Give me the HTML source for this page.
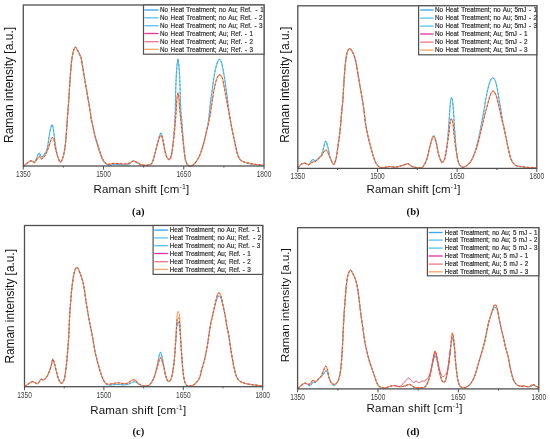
<!DOCTYPE html>
<html><head><meta charset="utf-8"><style>
html,body{margin:0;padding:0;background:#fff;}
svg{display:block;}
.tl{font-family:"Liberation Sans",sans-serif;font-size:8.6px;fill:#3c3c3c;text-anchor:middle;}
.xt{font-family:"Liberation Sans",sans-serif;font-size:11.5px;letter-spacing:0.2px;fill:#141414;}
.yt{font-family:"Liberation Sans",sans-serif;font-size:12px;fill:#141414;}
.lg{font-family:"Liberation Sans",sans-serif;font-size:6.3px;fill:#303030;stroke:#303030;stroke-width:0.2px;letter-spacing:0.15px;word-spacing:0.8px;white-space:pre;}
.pl{font-family:"Liberation Serif",serif;font-size:10.6px;font-weight:bold;fill:#111;text-anchor:middle;}
</style></head><body>
<svg width="550" height="439" viewBox="0 0 550 439">
<rect width="550" height="439" fill="#fff"/>
<path d="M23.60,166.20 C24.17,165.70 25.80,164.12 27.00,163.20 C28.20,162.28 29.75,160.97 30.80,160.70 C31.85,160.43 32.57,161.48 33.30,161.60 C34.03,161.72 34.27,162.80 35.20,161.40 C36.13,160.00 37.87,153.93 38.90,153.20 C39.93,152.47 40.57,156.68 41.40,157.00 C42.23,157.32 42.95,156.47 43.90,155.10 C44.85,153.73 46.15,152.35 47.10,148.80 C48.05,145.25 48.83,137.77 49.60,133.80 C50.37,129.83 51.08,125.83 51.70,125.00 C52.32,124.17 52.72,125.67 53.30,128.80 C53.88,131.93 54.47,139.20 55.20,143.80 C55.93,148.40 56.87,153.37 57.70,156.40 C58.53,159.43 59.37,161.70 60.20,162.00 C61.03,162.30 61.97,160.18 62.70,158.20 C63.43,156.22 64.07,153.33 64.60,150.10 C65.13,146.87 65.48,143.40 65.90,138.80 C66.32,134.20 66.60,129.30 67.10,122.50 C67.60,115.70 68.38,105.50 68.90,98.00 C69.42,90.50 69.70,84.03 70.20,77.50 C70.70,70.97 71.32,63.35 71.90,58.80 C72.48,54.25 73.12,52.13 73.70,50.20 C74.28,48.27 74.83,47.33 75.40,47.20 C75.97,47.07 76.40,48.18 77.10,49.40 C77.80,50.62 78.90,52.93 79.60,54.50 C80.30,56.07 80.73,56.38 81.30,58.80 C81.87,61.22 82.43,65.60 83.00,69.00 C83.57,72.40 84.12,75.78 84.70,79.20 C85.28,82.62 85.92,86.08 86.50,89.50 C87.08,92.92 87.57,95.95 88.20,99.70 C88.83,103.45 89.82,108.92 90.30,112.00 C90.78,115.08 90.62,115.57 91.10,118.20 C91.58,120.83 92.52,124.62 93.20,127.80 C93.88,130.98 94.40,134.12 95.20,137.30 C96.00,140.48 97.08,143.93 98.00,146.90 C98.92,149.87 99.80,152.72 100.70,155.10 C101.60,157.48 102.48,159.72 103.40,161.20 C104.32,162.68 105.28,163.30 106.20,164.00 C107.12,164.70 107.65,165.35 108.90,165.40 C110.15,165.45 111.98,164.43 113.70,164.30 C115.42,164.17 117.38,164.48 119.20,164.60 C121.02,164.72 123.02,165.05 124.60,165.00 C126.18,164.95 127.33,164.93 128.70,164.30 C130.07,163.67 131.90,161.72 132.80,161.20 C133.70,160.68 133.32,160.88 134.10,161.20 C134.88,161.52 136.37,162.45 137.50,163.10 C138.63,163.75 139.65,164.72 140.90,165.10 C142.15,165.48 143.52,165.40 145.00,165.40 C146.48,165.40 148.55,165.68 149.80,165.10 C151.05,164.52 151.58,164.03 152.50,161.90 C153.42,159.77 154.38,155.72 155.30,152.30 C156.22,148.88 157.10,144.58 158.00,141.40 C158.90,138.22 159.90,133.65 160.70,133.20 C161.50,132.75 162.12,135.97 162.80,138.70 C163.48,141.43 164.12,146.53 164.80,149.60 C165.48,152.67 166.27,155.50 166.90,157.10 C167.53,158.70 167.92,159.32 168.60,159.20 C169.28,159.08 170.27,158.92 171.00,156.40 C171.73,153.88 172.40,149.33 173.00,144.10 C173.60,138.87 174.22,130.68 174.60,125.00 C174.98,119.32 175.13,115.12 175.30,110.00 C175.47,104.88 175.47,99.37 175.60,94.30 C175.73,89.23 175.90,84.03 176.10,79.60 C176.30,75.17 176.48,71.15 176.80,67.70 C177.12,64.25 177.63,58.90 178.00,58.90 C178.37,58.90 178.70,64.25 179.00,67.70 C179.30,71.15 179.60,75.17 179.80,79.60 C180.00,84.03 180.03,89.23 180.20,94.30 C180.37,99.37 180.47,104.65 180.80,110.00 C181.13,115.35 181.68,120.03 182.20,126.40 C182.72,132.77 183.38,142.73 183.90,148.20 C184.42,153.67 184.72,156.47 185.30,159.20 C185.88,161.93 186.48,163.47 187.40,164.60 C188.32,165.73 189.78,165.98 190.80,166.00 C191.82,166.02 192.48,165.60 193.50,164.70 C194.52,163.80 195.75,162.43 196.90,160.60 C198.05,158.77 199.25,156.70 200.40,153.70 C201.55,150.70 202.77,146.52 203.80,142.60 C204.83,138.68 205.90,133.30 206.60,130.20 C207.30,127.10 207.58,126.43 208.00,124.00 C208.42,121.57 208.70,119.13 209.10,115.60 C209.50,112.07 209.92,106.78 210.40,102.80 C210.88,98.82 211.48,95.42 212.00,91.70 C212.52,87.98 212.98,83.97 213.50,80.50 C214.02,77.03 214.48,73.82 215.10,70.90 C215.72,67.98 216.48,64.93 217.20,63.00 C217.92,61.07 218.68,59.38 219.40,59.30 C220.12,59.22 220.80,60.30 221.50,62.50 C222.20,64.70 222.93,68.83 223.60,72.50 C224.27,76.17 224.92,80.50 225.50,84.50 C226.08,88.50 226.57,92.45 227.10,96.50 C227.63,100.55 228.13,104.80 228.70,108.80 C229.27,112.80 229.82,116.47 230.50,120.50 C231.18,124.53 232.07,129.32 232.80,133.00 C233.53,136.68 234.20,139.38 234.90,142.60 C235.60,145.82 236.20,149.53 237.00,152.30 C237.80,155.07 238.55,157.58 239.70,159.20 C240.85,160.82 242.28,161.27 243.90,162.00 C245.52,162.73 247.57,163.18 249.40,163.60 C251.23,164.02 252.60,164.20 254.90,164.50 C257.20,164.80 261.82,165.25 263.20,165.40" fill="none" stroke="#5cc4f2" stroke-width="1.15" stroke-linejoin="round" opacity="1"/>
<path d="M23.60,166.20 C24.17,165.70 25.80,164.12 27.00,163.20 C28.20,162.28 29.75,160.97 30.80,160.70 C31.85,160.43 32.57,161.48 33.30,161.60 C34.03,161.72 34.27,162.80 35.20,161.40 C36.13,160.00 37.87,153.93 38.90,153.20 C39.93,152.47 40.57,156.68 41.40,157.00 C42.23,157.32 42.95,156.47 43.90,155.10 C44.85,153.73 46.15,152.35 47.10,148.80 C48.05,145.25 48.83,137.77 49.60,133.80 C50.37,129.83 51.08,125.83 51.70,125.00 C52.32,124.17 52.72,125.67 53.30,128.80 C53.88,131.93 54.47,139.20 55.20,143.80 C55.93,148.40 56.87,153.37 57.70,156.40 C58.53,159.43 59.37,161.70 60.20,162.00 C61.03,162.30 61.97,160.18 62.70,158.20 C63.43,156.22 64.07,153.33 64.60,150.10 C65.13,146.87 65.48,143.40 65.90,138.80 C66.32,134.20 66.60,129.30 67.10,122.50 C67.60,115.70 68.38,105.50 68.90,98.00 C69.42,90.50 69.70,84.03 70.20,77.50 C70.70,70.97 71.32,63.35 71.90,58.80 C72.48,54.25 73.12,52.13 73.70,50.20 C74.28,48.27 74.83,47.33 75.40,47.20 C75.97,47.07 76.40,48.18 77.10,49.40 C77.80,50.62 78.90,52.93 79.60,54.50 C80.30,56.07 80.73,56.38 81.30,58.80 C81.87,61.22 82.43,65.60 83.00,69.00 C83.57,72.40 84.12,75.78 84.70,79.20 C85.28,82.62 85.92,86.08 86.50,89.50 C87.08,92.92 87.57,95.95 88.20,99.70 C88.83,103.45 89.82,108.92 90.30,112.00 C90.78,115.08 90.62,115.57 91.10,118.20 C91.58,120.83 92.52,124.62 93.20,127.80 C93.88,130.98 94.40,134.12 95.20,137.30 C96.00,140.48 97.08,143.93 98.00,146.90 C98.92,149.87 99.80,152.72 100.70,155.10 C101.60,157.48 102.48,159.72 103.40,161.20 C104.32,162.68 105.28,163.30 106.20,164.00 C107.12,164.70 107.65,165.35 108.90,165.40 C110.15,165.45 111.98,164.43 113.70,164.30 C115.42,164.17 117.38,164.48 119.20,164.60 C121.02,164.72 123.02,165.05 124.60,165.00 C126.18,164.95 127.33,164.93 128.70,164.30 C130.07,163.67 131.90,161.72 132.80,161.20 C133.70,160.68 133.32,160.88 134.10,161.20 C134.88,161.52 136.37,162.45 137.50,163.10 C138.63,163.75 139.65,164.72 140.90,165.10 C142.15,165.48 143.52,165.40 145.00,165.40 C146.48,165.40 148.55,165.68 149.80,165.10 C151.05,164.52 151.58,164.03 152.50,161.90 C153.42,159.77 154.38,155.72 155.30,152.30 C156.22,148.88 157.10,144.58 158.00,141.40 C158.90,138.22 159.90,133.65 160.70,133.20 C161.50,132.75 162.12,135.97 162.80,138.70 C163.48,141.43 164.12,146.53 164.80,149.60 C165.48,152.67 166.27,155.50 166.90,157.10 C167.53,158.70 167.92,159.32 168.60,159.20 C169.28,159.08 170.27,158.92 171.00,156.40 C171.73,153.88 172.40,149.33 173.00,144.10 C173.60,138.87 174.22,130.68 174.60,125.00 C174.98,119.32 175.13,115.12 175.30,110.00 C175.47,104.88 175.47,99.37 175.60,94.30 C175.73,89.23 175.90,84.03 176.10,79.60 C176.30,75.17 176.48,71.15 176.80,67.70 C177.12,64.25 177.63,58.90 178.00,58.90 C178.37,58.90 178.70,64.25 179.00,67.70 C179.30,71.15 179.60,75.17 179.80,79.60 C180.00,84.03 180.03,89.23 180.20,94.30 C180.37,99.37 180.47,104.65 180.80,110.00 C181.13,115.35 181.68,120.03 182.20,126.40 C182.72,132.77 183.38,142.73 183.90,148.20 C184.42,153.67 184.72,156.47 185.30,159.20 C185.88,161.93 186.48,163.47 187.40,164.60 C188.32,165.73 189.78,165.98 190.80,166.00 C191.82,166.02 192.48,165.60 193.50,164.70 C194.52,163.80 195.75,162.43 196.90,160.60 C198.05,158.77 199.25,156.70 200.40,153.70 C201.55,150.70 202.77,146.52 203.80,142.60 C204.83,138.68 205.90,133.30 206.60,130.20 C207.30,127.10 207.58,126.43 208.00,124.00 C208.42,121.57 208.70,119.13 209.10,115.60 C209.50,112.07 209.92,106.78 210.40,102.80 C210.88,98.82 211.48,95.42 212.00,91.70 C212.52,87.98 212.98,83.97 213.50,80.50 C214.02,77.03 214.48,73.82 215.10,70.90 C215.72,67.98 216.48,64.93 217.20,63.00 C217.92,61.07 218.68,59.38 219.40,59.30 C220.12,59.22 220.80,60.30 221.50,62.50 C222.20,64.70 222.93,68.83 223.60,72.50 C224.27,76.17 224.92,80.50 225.50,84.50 C226.08,88.50 226.57,92.45 227.10,96.50 C227.63,100.55 228.13,104.80 228.70,108.80 C229.27,112.80 229.82,116.47 230.50,120.50 C231.18,124.53 232.07,129.32 232.80,133.00 C233.53,136.68 234.20,139.38 234.90,142.60 C235.60,145.82 236.20,149.53 237.00,152.30 C237.80,155.07 238.55,157.58 239.70,159.20 C240.85,160.82 242.28,161.27 243.90,162.00 C245.52,162.73 247.57,163.18 249.40,163.60 C251.23,164.02 252.60,164.20 254.90,164.50 C257.20,164.80 261.82,165.25 263.20,165.40" fill="none" stroke="#3ea6ee" stroke-width="1.0" stroke-linejoin="round" opacity="1" stroke-dasharray="2 2"/>
<path d="M23.60,166.20 C24.17,165.70 25.80,164.12 27.00,163.20 C28.20,162.28 29.65,160.80 30.80,160.70 C31.95,160.60 33.17,162.42 33.90,162.60 C34.63,162.78 34.30,162.83 35.20,161.80 C36.10,160.77 38.27,156.88 39.30,156.40 C40.33,155.92 40.63,158.80 41.40,158.90 C42.17,159.00 42.95,158.27 43.90,157.00 C44.85,155.73 46.05,153.80 47.10,151.30 C48.15,148.80 49.37,144.28 50.20,142.00 C51.03,139.72 51.47,137.93 52.10,137.60 C52.73,137.27 53.48,138.33 54.00,140.00 C54.52,141.67 54.58,144.87 55.20,147.60 C55.82,150.33 56.87,154.00 57.70,156.40 C58.53,158.80 59.37,161.70 60.20,162.00 C61.03,162.30 61.97,160.18 62.70,158.20 C63.43,156.22 64.07,153.33 64.60,150.10 C65.13,146.87 65.48,143.40 65.90,138.80 C66.32,134.20 66.60,129.30 67.10,122.50 C67.60,115.70 68.38,105.50 68.90,98.00 C69.42,90.50 69.70,84.03 70.20,77.50 C70.70,70.97 71.32,63.35 71.90,58.80 C72.48,54.25 73.12,52.13 73.70,50.20 C74.28,48.27 74.83,47.33 75.40,47.20 C75.97,47.07 76.40,48.18 77.10,49.40 C77.80,50.62 78.90,52.93 79.60,54.50 C80.30,56.07 80.73,56.38 81.30,58.80 C81.87,61.22 82.43,65.60 83.00,69.00 C83.57,72.40 84.12,75.78 84.70,79.20 C85.28,82.62 85.92,86.08 86.50,89.50 C87.08,92.92 87.57,95.95 88.20,99.70 C88.83,103.45 89.82,108.92 90.30,112.00 C90.78,115.08 90.62,115.57 91.10,118.20 C91.58,120.83 92.52,124.75 93.20,127.80 C93.88,130.85 94.40,133.55 95.20,136.50 C96.00,139.45 97.08,142.58 98.00,145.50 C98.92,148.42 99.80,151.50 100.70,154.00 C101.60,156.50 102.48,158.92 103.40,160.50 C104.32,162.08 105.28,162.87 106.20,163.50 C107.12,164.13 107.65,164.33 108.90,164.30 C110.15,164.27 111.98,163.42 113.70,163.30 C115.42,163.18 117.38,163.48 119.20,163.60 C121.02,163.72 123.02,164.05 124.60,164.00 C126.18,163.95 127.33,163.77 128.70,163.30 C130.07,162.83 131.90,161.55 132.80,161.20 C133.70,160.85 133.32,160.97 134.10,161.20 C134.88,161.43 136.37,162.03 137.50,162.60 C138.63,163.17 139.65,164.15 140.90,164.60 C142.15,165.05 143.52,165.30 145.00,165.30 C146.48,165.30 148.55,165.17 149.80,164.60 C151.05,164.03 151.58,163.95 152.50,161.90 C153.42,159.85 154.38,155.62 155.30,152.30 C156.22,148.98 157.10,144.83 158.00,142.00 C158.90,139.17 159.90,135.63 160.70,135.30 C161.50,134.97 162.12,137.47 162.80,140.00 C163.48,142.53 164.12,147.58 164.80,150.50 C165.48,153.42 166.15,155.95 166.90,157.50 C167.65,159.05 168.62,159.85 169.30,159.80 C169.98,159.75 170.38,159.67 171.00,157.20 C171.62,154.73 172.32,150.37 173.00,145.00 C173.68,139.63 174.57,130.83 175.10,125.00 C175.63,119.17 175.92,114.13 176.20,110.00 C176.48,105.87 176.50,103.05 176.80,100.20 C177.10,97.35 177.63,93.13 178.00,92.90 C178.37,92.67 178.70,95.95 179.00,98.80 C179.30,101.65 179.38,105.40 179.80,110.00 C180.22,114.60 180.82,120.03 181.50,126.40 C182.18,132.77 183.27,142.73 183.90,148.20 C184.53,153.67 184.72,156.47 185.30,159.20 C185.88,161.93 186.48,163.47 187.40,164.60 C188.32,165.73 189.78,165.98 190.80,166.00 C191.82,166.02 192.48,165.60 193.50,164.70 C194.52,163.80 195.75,162.43 196.90,160.60 C198.05,158.77 199.25,156.63 200.40,153.70 C201.55,150.77 202.77,146.70 203.80,143.00 C204.83,139.30 205.77,135.00 206.60,131.50 C207.43,128.00 208.10,125.45 208.80,122.00 C209.50,118.55 210.20,114.53 210.80,110.80 C211.40,107.07 211.82,103.32 212.40,99.60 C212.98,95.88 213.58,91.95 214.30,88.50 C215.02,85.05 215.85,81.17 216.70,78.90 C217.55,76.63 218.50,75.13 219.40,74.90 C220.30,74.67 221.28,75.40 222.10,77.50 C222.92,79.60 223.60,84.00 224.30,87.50 C225.00,91.00 225.60,94.67 226.30,98.50 C227.00,102.33 227.80,106.67 228.50,110.50 C229.20,114.33 229.78,117.75 230.50,121.50 C231.22,125.25 232.07,129.48 232.80,133.00 C233.53,136.52 234.20,139.38 234.90,142.60 C235.60,145.82 236.20,149.53 237.00,152.30 C237.80,155.07 238.55,157.58 239.70,159.20 C240.85,160.82 242.28,161.32 243.90,162.00 C245.52,162.68 247.57,162.92 249.40,163.30 C251.23,163.68 252.60,163.98 254.90,164.30 C257.20,164.62 261.82,165.05 263.20,165.20" fill="none" stroke="#f39a52" stroke-width="1.15" stroke-linejoin="round" opacity="1"/>
<path d="M23.60,166.20 C24.17,165.70 25.80,164.12 27.00,163.20 C28.20,162.28 29.65,160.80 30.80,160.70 C31.95,160.60 33.17,162.42 33.90,162.60 C34.63,162.78 34.30,162.83 35.20,161.80 C36.10,160.77 38.27,156.88 39.30,156.40 C40.33,155.92 40.63,158.80 41.40,158.90 C42.17,159.00 42.95,158.27 43.90,157.00 C44.85,155.73 46.05,153.80 47.10,151.30 C48.15,148.80 49.37,144.28 50.20,142.00 C51.03,139.72 51.47,137.93 52.10,137.60 C52.73,137.27 53.48,138.33 54.00,140.00 C54.52,141.67 54.58,144.87 55.20,147.60 C55.82,150.33 56.87,154.00 57.70,156.40 C58.53,158.80 59.37,161.70 60.20,162.00 C61.03,162.30 61.97,160.18 62.70,158.20 C63.43,156.22 64.07,153.33 64.60,150.10 C65.13,146.87 65.48,143.40 65.90,138.80 C66.32,134.20 66.60,129.30 67.10,122.50 C67.60,115.70 68.38,105.50 68.90,98.00 C69.42,90.50 69.70,84.03 70.20,77.50 C70.70,70.97 71.32,63.35 71.90,58.80 C72.48,54.25 73.12,52.13 73.70,50.20 C74.28,48.27 74.83,47.33 75.40,47.20 C75.97,47.07 76.40,48.18 77.10,49.40 C77.80,50.62 78.90,52.93 79.60,54.50 C80.30,56.07 80.73,56.38 81.30,58.80 C81.87,61.22 82.43,65.60 83.00,69.00 C83.57,72.40 84.12,75.78 84.70,79.20 C85.28,82.62 85.92,86.08 86.50,89.50 C87.08,92.92 87.57,95.95 88.20,99.70 C88.83,103.45 89.82,108.92 90.30,112.00 C90.78,115.08 90.62,115.57 91.10,118.20 C91.58,120.83 92.52,124.75 93.20,127.80 C93.88,130.85 94.40,133.55 95.20,136.50 C96.00,139.45 97.08,142.58 98.00,145.50 C98.92,148.42 99.80,151.50 100.70,154.00 C101.60,156.50 102.48,158.92 103.40,160.50 C104.32,162.08 105.28,162.87 106.20,163.50 C107.12,164.13 107.65,164.33 108.90,164.30 C110.15,164.27 111.98,163.42 113.70,163.30 C115.42,163.18 117.38,163.48 119.20,163.60 C121.02,163.72 123.02,164.05 124.60,164.00 C126.18,163.95 127.33,163.77 128.70,163.30 C130.07,162.83 131.90,161.55 132.80,161.20 C133.70,160.85 133.32,160.97 134.10,161.20 C134.88,161.43 136.37,162.03 137.50,162.60 C138.63,163.17 139.65,164.15 140.90,164.60 C142.15,165.05 143.52,165.30 145.00,165.30 C146.48,165.30 148.55,165.17 149.80,164.60 C151.05,164.03 151.58,163.95 152.50,161.90 C153.42,159.85 154.38,155.62 155.30,152.30 C156.22,148.98 157.10,144.83 158.00,142.00 C158.90,139.17 159.90,135.63 160.70,135.30 C161.50,134.97 162.12,137.47 162.80,140.00 C163.48,142.53 164.12,147.58 164.80,150.50 C165.48,153.42 166.15,155.95 166.90,157.50 C167.65,159.05 168.62,159.85 169.30,159.80 C169.98,159.75 170.38,159.67 171.00,157.20 C171.62,154.73 172.32,150.37 173.00,145.00 C173.68,139.63 174.57,130.83 175.10,125.00 C175.63,119.17 175.92,114.13 176.20,110.00 C176.48,105.87 176.50,103.05 176.80,100.20 C177.10,97.35 177.63,93.13 178.00,92.90 C178.37,92.67 178.70,95.95 179.00,98.80 C179.30,101.65 179.38,105.40 179.80,110.00 C180.22,114.60 180.82,120.03 181.50,126.40 C182.18,132.77 183.27,142.73 183.90,148.20 C184.53,153.67 184.72,156.47 185.30,159.20 C185.88,161.93 186.48,163.47 187.40,164.60 C188.32,165.73 189.78,165.98 190.80,166.00 C191.82,166.02 192.48,165.60 193.50,164.70 C194.52,163.80 195.75,162.43 196.90,160.60 C198.05,158.77 199.25,156.63 200.40,153.70 C201.55,150.77 202.77,146.70 203.80,143.00 C204.83,139.30 205.77,135.00 206.60,131.50 C207.43,128.00 208.10,125.45 208.80,122.00 C209.50,118.55 210.20,114.53 210.80,110.80 C211.40,107.07 211.82,103.32 212.40,99.60 C212.98,95.88 213.58,91.95 214.30,88.50 C215.02,85.05 215.85,81.17 216.70,78.90 C217.55,76.63 218.50,75.13 219.40,74.90 C220.30,74.67 221.28,75.40 222.10,77.50 C222.92,79.60 223.60,84.00 224.30,87.50 C225.00,91.00 225.60,94.67 226.30,98.50 C227.00,102.33 227.80,106.67 228.50,110.50 C229.20,114.33 229.78,117.75 230.50,121.50 C231.22,125.25 232.07,129.48 232.80,133.00 C233.53,136.52 234.20,139.38 234.90,142.60 C235.60,145.82 236.20,149.53 237.00,152.30 C237.80,155.07 238.55,157.58 239.70,159.20 C240.85,160.82 242.28,161.32 243.90,162.00 C245.52,162.68 247.57,162.92 249.40,163.30 C251.23,163.68 252.60,163.98 254.90,164.30 C257.20,164.62 261.82,165.05 263.20,165.20" fill="none" stroke="#ee3a3a" stroke-width="1.0" stroke-linejoin="round" opacity="1" stroke-dasharray="2 2"/>
<rect x="23.3" y="5" width="240.7" height="161" fill="none" stroke="#505050" stroke-width="1.3"/>
<line x1="23.30" y1="166" x2="23.30" y2="169.5" stroke="#505050" stroke-width="1"/>
<text x="23.30" y="176.9" class="tl" textLength="14.6" lengthAdjust="spacingAndGlyphs">1350</text>
<line x1="63.42" y1="166" x2="63.42" y2="167.6" stroke="#505050" stroke-width="1"/>
<line x1="103.53" y1="166" x2="103.53" y2="169.5" stroke="#505050" stroke-width="1"/>
<text x="103.53" y="176.9" class="tl" textLength="14.6" lengthAdjust="spacingAndGlyphs">1500</text>
<line x1="143.65" y1="166" x2="143.65" y2="167.6" stroke="#505050" stroke-width="1"/>
<line x1="183.77" y1="166" x2="183.77" y2="169.5" stroke="#505050" stroke-width="1"/>
<text x="183.77" y="176.9" class="tl" textLength="14.6" lengthAdjust="spacingAndGlyphs">1650</text>
<line x1="223.88" y1="166" x2="223.88" y2="167.6" stroke="#505050" stroke-width="1"/>
<line x1="264.00" y1="166" x2="264.00" y2="169.5" stroke="#505050" stroke-width="1"/>
<text x="264.00" y="176.9" class="tl" textLength="14.6" lengthAdjust="spacingAndGlyphs">1800</text>
<text x="93.4" y="192.5" class="xt" style="letter-spacing:0.2px">Raman shift [cm<tspan dy="-4" font-size="7">-1</tspan><tspan dy="4">]</tspan></text>
<text transform="translate(12.7,143) rotate(-90)" class="yt" style="font-size:12px">Raman intensity [a.u.]</text>
<rect x="143.5" y="5" width="120.5" height="49.2" fill="#fff" stroke="#505050" stroke-width="1.2"/>
<line x1="144.3" y1="10" x2="158.5" y2="10" stroke="#3ea6ee" stroke-width="1.35"/>
<text x="160" y="12.20" class="lg" style="letter-spacing:0.0px">No Heat Treatment; no Au; Ref. <tspan dx="1.1">- 1</tspan></text>
<line x1="144.3" y1="17.8" x2="158.5" y2="17.8" stroke="#5cc4f2" stroke-width="1.35"/>
<text x="160" y="20.00" class="lg" style="letter-spacing:0.0px">No Heat Treatment; no Au; Ref. - 2</text>
<line x1="144.3" y1="25.7" x2="158.5" y2="25.7" stroke="#5cc4f2" stroke-width="1.35"/>
<text x="160" y="27.90" class="lg" style="letter-spacing:0.0px">No Heat Treatment; no Au; Ref. - 3</text>
<line x1="144.3" y1="33.5" x2="158.5" y2="33.5" stroke="#e6389a" stroke-width="1.35"/>
<text x="160" y="35.70" class="lg" style="letter-spacing:0.0px">No Heat Treatment; Au; Ref. - 1</text>
<line x1="144.3" y1="41.7" x2="158.5" y2="41.7" stroke="#f07c8c" stroke-width="1.35"/>
<text x="160" y="43.90" class="lg" style="letter-spacing:0.0px">No Heat Treatment; Au; Ref. - 2</text>
<line x1="144.3" y1="49.3" x2="158.5" y2="49.3" stroke="#f4a86a" stroke-width="1.35"/>
<text x="160" y="51.50" class="lg" style="letter-spacing:0.0px">No Heat Treatment; Au; Ref. - 3</text>
<text x="138.3" y="215" class="pl">(a)</text>
<path d="M298.10,167.60 C298.45,167.18 299.37,165.80 300.20,165.10 C301.03,164.40 302.15,163.68 303.10,163.40 C304.05,163.12 304.97,163.17 305.90,163.40 C306.83,163.63 307.88,165.10 308.70,164.80 C309.52,164.50 310.10,162.50 310.80,161.60 C311.50,160.70 312.18,159.53 312.90,159.40 C313.62,159.27 314.38,160.80 315.10,160.80 C315.82,160.80 316.50,159.98 317.20,159.40 C317.90,158.82 318.60,158.00 319.30,157.30 C320.00,156.60 320.70,156.73 321.40,155.20 C322.10,153.67 322.78,150.45 323.50,148.10 C324.22,145.75 324.98,141.33 325.70,141.10 C326.42,140.87 327.10,144.12 327.80,146.70 C328.50,149.28 328.95,153.65 329.90,156.60 C330.85,159.55 332.57,163.70 333.50,164.40 C334.43,165.10 334.93,162.53 335.50,160.80 C336.07,159.07 336.45,156.72 336.90,154.00 C337.35,151.28 337.75,147.73 338.20,144.50 C338.65,141.27 339.20,137.85 339.60,134.60 C340.00,131.35 340.30,128.18 340.60,125.00 C340.90,121.82 341.13,118.50 341.40,115.50 C341.67,112.50 341.95,109.63 342.20,107.00 C342.45,104.37 342.62,103.75 342.90,99.70 C343.18,95.65 343.52,88.38 343.90,82.70 C344.28,77.02 344.70,70.43 345.20,65.60 C345.70,60.77 346.18,56.55 346.90,53.70 C347.62,50.85 348.63,48.93 349.50,48.50 C350.37,48.07 351.25,49.67 352.10,51.10 C352.95,52.53 353.90,54.97 354.60,57.10 C355.30,59.23 355.73,61.07 356.30,63.90 C356.87,66.73 357.43,70.68 358.00,74.10 C358.57,77.52 359.12,80.98 359.70,84.40 C360.28,87.82 360.92,91.20 361.50,94.60 C362.08,98.00 362.72,101.57 363.20,104.80 C363.68,108.03 364.00,110.78 364.40,114.00 C364.80,117.22 365.03,120.53 365.60,124.10 C366.17,127.67 366.97,131.63 367.80,135.40 C368.63,139.17 369.67,143.17 370.60,146.70 C371.53,150.23 372.47,153.78 373.40,156.60 C374.33,159.42 375.13,161.83 376.20,163.60 C377.27,165.37 378.50,166.53 379.80,167.20 C381.10,167.87 382.37,167.72 384.00,167.60 C385.63,167.48 387.72,166.57 389.60,166.50 C391.48,166.43 393.65,167.25 395.30,167.20 C396.95,167.15 397.97,166.60 399.50,166.20 C401.03,165.80 403.08,165.23 404.50,164.80 C405.92,164.37 406.83,163.37 408.00,163.60 C409.17,163.83 410.08,165.53 411.50,166.20 C412.92,166.87 415.08,167.32 416.50,167.60 C417.92,167.88 418.90,168.07 420.00,167.90 C421.10,167.73 421.97,168.05 423.10,166.60 C424.23,165.15 425.72,162.32 426.80,159.20 C427.88,156.08 428.72,151.33 429.60,147.90 C430.48,144.47 431.38,140.62 432.10,138.60 C432.82,136.58 433.22,135.18 433.90,135.80 C434.58,136.42 435.45,139.33 436.20,142.30 C436.95,145.27 437.63,150.53 438.40,153.60 C439.17,156.67 440.18,159.22 440.80,160.70 C441.42,162.18 441.47,162.75 442.10,162.50 C442.73,162.25 443.78,161.93 444.60,159.20 C445.42,156.47 446.28,152.03 447.00,146.10 C447.72,140.17 448.37,130.45 448.90,123.60 C449.43,116.75 449.77,109.35 450.20,105.00 C450.63,100.65 451.03,97.50 451.50,97.50 C451.97,97.50 452.50,100.02 453.00,105.00 C453.50,109.98 453.93,119.62 454.50,127.40 C455.07,135.18 455.72,145.78 456.40,151.70 C457.08,157.62 457.63,160.32 458.60,162.90 C459.57,165.48 460.93,166.68 462.20,167.20 C463.47,167.72 464.82,166.90 466.20,166.00 C467.58,165.10 469.18,163.68 470.50,161.80 C471.82,159.92 473.03,157.53 474.10,154.70 C475.17,151.87 475.97,148.35 476.90,144.80 C477.83,141.25 478.88,137.20 479.70,133.40 C480.52,129.60 481.08,125.85 481.80,122.00 C482.52,118.15 483.32,114.22 484.00,110.30 C484.68,106.38 485.22,102.20 485.90,98.50 C486.58,94.80 487.37,91.07 488.10,88.10 C488.83,85.13 489.52,82.42 490.30,80.70 C491.08,78.98 491.93,77.68 492.80,77.80 C493.67,77.92 494.68,79.18 495.50,81.40 C496.32,83.62 497.02,87.52 497.70,91.10 C498.38,94.68 498.98,99.20 499.60,102.90 C500.22,106.60 500.78,109.62 501.40,113.30 C502.02,116.98 502.53,120.93 503.30,125.00 C504.07,129.07 505.20,133.93 506.00,137.70 C506.80,141.47 507.28,144.05 508.10,147.60 C508.92,151.15 509.83,156.17 510.90,159.00 C511.97,161.83 513.20,163.38 514.50,164.60 C515.80,165.82 516.82,165.87 518.70,166.30 C520.58,166.73 522.95,166.95 525.80,167.20 C528.65,167.45 534.13,167.70 535.80,167.80" fill="none" stroke="#5cc4f2" stroke-width="1.15" stroke-linejoin="round" opacity="1"/>
<path d="M298.10,167.60 C298.45,167.18 299.37,165.80 300.20,165.10 C301.03,164.40 302.15,163.68 303.10,163.40 C304.05,163.12 304.97,163.17 305.90,163.40 C306.83,163.63 307.88,165.10 308.70,164.80 C309.52,164.50 310.10,162.50 310.80,161.60 C311.50,160.70 312.18,159.53 312.90,159.40 C313.62,159.27 314.38,160.80 315.10,160.80 C315.82,160.80 316.50,159.98 317.20,159.40 C317.90,158.82 318.60,158.00 319.30,157.30 C320.00,156.60 320.70,156.73 321.40,155.20 C322.10,153.67 322.78,150.45 323.50,148.10 C324.22,145.75 324.98,141.33 325.70,141.10 C326.42,140.87 327.10,144.12 327.80,146.70 C328.50,149.28 328.95,153.65 329.90,156.60 C330.85,159.55 332.57,163.70 333.50,164.40 C334.43,165.10 334.93,162.53 335.50,160.80 C336.07,159.07 336.45,156.72 336.90,154.00 C337.35,151.28 337.75,147.73 338.20,144.50 C338.65,141.27 339.20,137.85 339.60,134.60 C340.00,131.35 340.30,128.18 340.60,125.00 C340.90,121.82 341.13,118.50 341.40,115.50 C341.67,112.50 341.95,109.63 342.20,107.00 C342.45,104.37 342.62,103.75 342.90,99.70 C343.18,95.65 343.52,88.38 343.90,82.70 C344.28,77.02 344.70,70.43 345.20,65.60 C345.70,60.77 346.18,56.55 346.90,53.70 C347.62,50.85 348.63,48.93 349.50,48.50 C350.37,48.07 351.25,49.67 352.10,51.10 C352.95,52.53 353.90,54.97 354.60,57.10 C355.30,59.23 355.73,61.07 356.30,63.90 C356.87,66.73 357.43,70.68 358.00,74.10 C358.57,77.52 359.12,80.98 359.70,84.40 C360.28,87.82 360.92,91.20 361.50,94.60 C362.08,98.00 362.72,101.57 363.20,104.80 C363.68,108.03 364.00,110.78 364.40,114.00 C364.80,117.22 365.03,120.53 365.60,124.10 C366.17,127.67 366.97,131.63 367.80,135.40 C368.63,139.17 369.67,143.17 370.60,146.70 C371.53,150.23 372.47,153.78 373.40,156.60 C374.33,159.42 375.13,161.83 376.20,163.60 C377.27,165.37 378.50,166.53 379.80,167.20 C381.10,167.87 382.37,167.72 384.00,167.60 C385.63,167.48 387.72,166.57 389.60,166.50 C391.48,166.43 393.65,167.25 395.30,167.20 C396.95,167.15 397.97,166.60 399.50,166.20 C401.03,165.80 403.08,165.23 404.50,164.80 C405.92,164.37 406.83,163.37 408.00,163.60 C409.17,163.83 410.08,165.53 411.50,166.20 C412.92,166.87 415.08,167.32 416.50,167.60 C417.92,167.88 418.90,168.07 420.00,167.90 C421.10,167.73 421.97,168.05 423.10,166.60 C424.23,165.15 425.72,162.32 426.80,159.20 C427.88,156.08 428.72,151.33 429.60,147.90 C430.48,144.47 431.38,140.62 432.10,138.60 C432.82,136.58 433.22,135.18 433.90,135.80 C434.58,136.42 435.45,139.33 436.20,142.30 C436.95,145.27 437.63,150.53 438.40,153.60 C439.17,156.67 440.18,159.22 440.80,160.70 C441.42,162.18 441.47,162.75 442.10,162.50 C442.73,162.25 443.78,161.93 444.60,159.20 C445.42,156.47 446.28,152.03 447.00,146.10 C447.72,140.17 448.37,130.45 448.90,123.60 C449.43,116.75 449.77,109.35 450.20,105.00 C450.63,100.65 451.03,97.50 451.50,97.50 C451.97,97.50 452.50,100.02 453.00,105.00 C453.50,109.98 453.93,119.62 454.50,127.40 C455.07,135.18 455.72,145.78 456.40,151.70 C457.08,157.62 457.63,160.32 458.60,162.90 C459.57,165.48 460.93,166.68 462.20,167.20 C463.47,167.72 464.82,166.90 466.20,166.00 C467.58,165.10 469.18,163.68 470.50,161.80 C471.82,159.92 473.03,157.53 474.10,154.70 C475.17,151.87 475.97,148.35 476.90,144.80 C477.83,141.25 478.88,137.20 479.70,133.40 C480.52,129.60 481.08,125.85 481.80,122.00 C482.52,118.15 483.32,114.22 484.00,110.30 C484.68,106.38 485.22,102.20 485.90,98.50 C486.58,94.80 487.37,91.07 488.10,88.10 C488.83,85.13 489.52,82.42 490.30,80.70 C491.08,78.98 491.93,77.68 492.80,77.80 C493.67,77.92 494.68,79.18 495.50,81.40 C496.32,83.62 497.02,87.52 497.70,91.10 C498.38,94.68 498.98,99.20 499.60,102.90 C500.22,106.60 500.78,109.62 501.40,113.30 C502.02,116.98 502.53,120.93 503.30,125.00 C504.07,129.07 505.20,133.93 506.00,137.70 C506.80,141.47 507.28,144.05 508.10,147.60 C508.92,151.15 509.83,156.17 510.90,159.00 C511.97,161.83 513.20,163.38 514.50,164.60 C515.80,165.82 516.82,165.87 518.70,166.30 C520.58,166.73 522.95,166.95 525.80,167.20 C528.65,167.45 534.13,167.70 535.80,167.80" fill="none" stroke="#3ea6ee" stroke-width="1.0" stroke-linejoin="round" opacity="1" stroke-dasharray="2 2"/>
<path d="M298.10,167.60 C298.45,167.18 299.37,165.80 300.20,165.10 C301.03,164.40 302.15,163.68 303.10,163.40 C304.05,163.12 304.97,163.17 305.90,163.40 C306.83,163.63 307.88,164.87 308.70,164.80 C309.52,164.73 310.10,163.47 310.80,163.00 C311.50,162.53 312.18,162.25 312.90,162.00 C313.62,161.75 314.38,161.83 315.10,161.50 C315.82,161.17 316.50,160.58 317.20,160.00 C317.90,159.42 318.60,158.67 319.30,158.00 C320.00,157.33 320.70,156.93 321.40,156.00 C322.10,155.07 322.78,153.43 323.50,152.40 C324.22,151.37 324.98,149.80 325.70,149.80 C326.42,149.80 327.10,151.12 327.80,152.40 C328.50,153.68 328.95,155.50 329.90,157.50 C330.85,159.50 332.57,163.85 333.50,164.40 C334.43,164.95 334.93,162.53 335.50,160.80 C336.07,159.07 336.45,156.72 336.90,154.00 C337.35,151.28 337.75,147.73 338.20,144.50 C338.65,141.27 339.20,137.85 339.60,134.60 C340.00,131.35 340.30,128.18 340.60,125.00 C340.90,121.82 341.13,118.50 341.40,115.50 C341.67,112.50 341.95,109.63 342.20,107.00 C342.45,104.37 342.62,103.75 342.90,99.70 C343.18,95.65 343.52,88.38 343.90,82.70 C344.28,77.02 344.70,70.43 345.20,65.60 C345.70,60.77 346.18,56.55 346.90,53.70 C347.62,50.85 348.63,48.93 349.50,48.50 C350.37,48.07 351.25,49.67 352.10,51.10 C352.95,52.53 353.90,54.97 354.60,57.10 C355.30,59.23 355.73,61.07 356.30,63.90 C356.87,66.73 357.43,70.68 358.00,74.10 C358.57,77.52 359.12,80.98 359.70,84.40 C360.28,87.82 360.92,91.20 361.50,94.60 C362.08,98.00 362.72,101.57 363.20,104.80 C363.68,108.03 364.00,110.78 364.40,114.00 C364.80,117.22 365.03,120.53 365.60,124.10 C366.17,127.67 366.97,131.63 367.80,135.40 C368.63,139.17 369.67,143.17 370.60,146.70 C371.53,150.23 372.47,153.78 373.40,156.60 C374.33,159.42 375.13,161.83 376.20,163.60 C377.27,165.37 378.50,166.53 379.80,167.20 C381.10,167.87 382.37,167.72 384.00,167.60 C385.63,167.48 387.72,166.57 389.60,166.50 C391.48,166.43 393.65,167.25 395.30,167.20 C396.95,167.15 397.97,166.60 399.50,166.20 C401.03,165.80 403.08,165.23 404.50,164.80 C405.92,164.37 406.83,163.37 408.00,163.60 C409.17,163.83 410.08,165.53 411.50,166.20 C412.92,166.87 415.08,167.32 416.50,167.60 C417.92,167.88 418.90,168.07 420.00,167.90 C421.10,167.73 421.97,168.05 423.10,166.60 C424.23,165.15 425.72,162.32 426.80,159.20 C427.88,156.08 428.72,151.27 429.60,147.90 C430.48,144.53 431.38,140.87 432.10,139.00 C432.82,137.13 433.22,136.12 433.90,136.70 C434.58,137.28 435.45,139.68 436.20,142.50 C436.95,145.32 437.63,150.57 438.40,153.60 C439.17,156.63 440.18,159.22 440.80,160.70 C441.42,162.18 441.47,162.75 442.10,162.50 C442.73,162.25 443.78,161.93 444.60,159.20 C445.42,156.47 446.28,150.47 447.00,146.10 C447.72,141.73 448.37,137.05 448.90,133.00 C449.43,128.95 449.77,124.13 450.20,121.80 C450.63,119.47 451.03,118.70 451.50,119.00 C451.97,119.30 452.53,120.65 453.00,123.60 C453.47,126.55 453.73,132.02 454.30,136.70 C454.87,141.38 455.68,147.33 456.40,151.70 C457.12,156.07 457.63,160.32 458.60,162.90 C459.57,165.48 460.93,166.68 462.20,167.20 C463.47,167.72 464.82,166.90 466.20,166.00 C467.58,165.10 469.18,163.68 470.50,161.80 C471.82,159.92 472.92,157.53 474.10,154.70 C475.28,151.87 476.55,148.35 477.60,144.80 C478.65,141.25 479.47,137.28 480.40,133.40 C481.33,129.52 482.35,125.07 483.20,121.50 C484.05,117.93 484.90,114.33 485.50,112.00 C486.10,109.67 486.25,109.52 486.80,107.50 C487.35,105.48 488.08,102.27 488.80,99.90 C489.52,97.53 490.35,94.77 491.10,93.30 C491.85,91.83 492.45,90.73 493.30,91.10 C494.15,91.47 495.33,93.28 496.20,95.50 C497.07,97.72 497.75,101.20 498.50,104.40 C499.25,107.60 500.02,111.68 500.70,114.70 C501.38,117.72 502.08,120.57 502.60,122.50 C503.12,124.43 503.23,123.77 503.80,126.30 C504.37,128.83 505.28,134.15 506.00,137.70 C506.72,141.25 507.28,144.05 508.10,147.60 C508.92,151.15 509.83,156.17 510.90,159.00 C511.97,161.83 513.20,163.38 514.50,164.60 C515.80,165.82 516.82,165.87 518.70,166.30 C520.58,166.73 522.95,167.00 525.80,167.20 C528.65,167.40 534.13,167.45 535.80,167.50" fill="none" stroke="#f39a52" stroke-width="1.15" stroke-linejoin="round" opacity="1"/>
<path d="M298.10,167.60 C298.45,167.18 299.37,165.80 300.20,165.10 C301.03,164.40 302.15,163.68 303.10,163.40 C304.05,163.12 304.97,163.17 305.90,163.40 C306.83,163.63 307.88,164.87 308.70,164.80 C309.52,164.73 310.10,163.47 310.80,163.00 C311.50,162.53 312.18,162.25 312.90,162.00 C313.62,161.75 314.38,161.83 315.10,161.50 C315.82,161.17 316.50,160.58 317.20,160.00 C317.90,159.42 318.60,158.67 319.30,158.00 C320.00,157.33 320.70,156.93 321.40,156.00 C322.10,155.07 322.78,153.43 323.50,152.40 C324.22,151.37 324.98,149.80 325.70,149.80 C326.42,149.80 327.10,151.12 327.80,152.40 C328.50,153.68 328.95,155.50 329.90,157.50 C330.85,159.50 332.57,163.85 333.50,164.40 C334.43,164.95 334.93,162.53 335.50,160.80 C336.07,159.07 336.45,156.72 336.90,154.00 C337.35,151.28 337.75,147.73 338.20,144.50 C338.65,141.27 339.20,137.85 339.60,134.60 C340.00,131.35 340.30,128.18 340.60,125.00 C340.90,121.82 341.13,118.50 341.40,115.50 C341.67,112.50 341.95,109.63 342.20,107.00 C342.45,104.37 342.62,103.75 342.90,99.70 C343.18,95.65 343.52,88.38 343.90,82.70 C344.28,77.02 344.70,70.43 345.20,65.60 C345.70,60.77 346.18,56.55 346.90,53.70 C347.62,50.85 348.63,48.93 349.50,48.50 C350.37,48.07 351.25,49.67 352.10,51.10 C352.95,52.53 353.90,54.97 354.60,57.10 C355.30,59.23 355.73,61.07 356.30,63.90 C356.87,66.73 357.43,70.68 358.00,74.10 C358.57,77.52 359.12,80.98 359.70,84.40 C360.28,87.82 360.92,91.20 361.50,94.60 C362.08,98.00 362.72,101.57 363.20,104.80 C363.68,108.03 364.00,110.78 364.40,114.00 C364.80,117.22 365.03,120.53 365.60,124.10 C366.17,127.67 366.97,131.63 367.80,135.40 C368.63,139.17 369.67,143.17 370.60,146.70 C371.53,150.23 372.47,153.78 373.40,156.60 C374.33,159.42 375.13,161.83 376.20,163.60 C377.27,165.37 378.50,166.53 379.80,167.20 C381.10,167.87 382.37,167.72 384.00,167.60 C385.63,167.48 387.72,166.57 389.60,166.50 C391.48,166.43 393.65,167.25 395.30,167.20 C396.95,167.15 397.97,166.60 399.50,166.20 C401.03,165.80 403.08,165.23 404.50,164.80 C405.92,164.37 406.83,163.37 408.00,163.60 C409.17,163.83 410.08,165.53 411.50,166.20 C412.92,166.87 415.08,167.32 416.50,167.60 C417.92,167.88 418.90,168.07 420.00,167.90 C421.10,167.73 421.97,168.05 423.10,166.60 C424.23,165.15 425.72,162.32 426.80,159.20 C427.88,156.08 428.72,151.27 429.60,147.90 C430.48,144.53 431.38,140.87 432.10,139.00 C432.82,137.13 433.22,136.12 433.90,136.70 C434.58,137.28 435.45,139.68 436.20,142.50 C436.95,145.32 437.63,150.57 438.40,153.60 C439.17,156.63 440.18,159.22 440.80,160.70 C441.42,162.18 441.47,162.75 442.10,162.50 C442.73,162.25 443.78,161.93 444.60,159.20 C445.42,156.47 446.28,150.47 447.00,146.10 C447.72,141.73 448.37,137.05 448.90,133.00 C449.43,128.95 449.77,124.13 450.20,121.80 C450.63,119.47 451.03,118.70 451.50,119.00 C451.97,119.30 452.53,120.65 453.00,123.60 C453.47,126.55 453.73,132.02 454.30,136.70 C454.87,141.38 455.68,147.33 456.40,151.70 C457.12,156.07 457.63,160.32 458.60,162.90 C459.57,165.48 460.93,166.68 462.20,167.20 C463.47,167.72 464.82,166.90 466.20,166.00 C467.58,165.10 469.18,163.68 470.50,161.80 C471.82,159.92 472.92,157.53 474.10,154.70 C475.28,151.87 476.55,148.35 477.60,144.80 C478.65,141.25 479.47,137.28 480.40,133.40 C481.33,129.52 482.35,125.07 483.20,121.50 C484.05,117.93 484.90,114.33 485.50,112.00 C486.10,109.67 486.25,109.52 486.80,107.50 C487.35,105.48 488.08,102.27 488.80,99.90 C489.52,97.53 490.35,94.77 491.10,93.30 C491.85,91.83 492.45,90.73 493.30,91.10 C494.15,91.47 495.33,93.28 496.20,95.50 C497.07,97.72 497.75,101.20 498.50,104.40 C499.25,107.60 500.02,111.68 500.70,114.70 C501.38,117.72 502.08,120.57 502.60,122.50 C503.12,124.43 503.23,123.77 503.80,126.30 C504.37,128.83 505.28,134.15 506.00,137.70 C506.72,141.25 507.28,144.05 508.10,147.60 C508.92,151.15 509.83,156.17 510.90,159.00 C511.97,161.83 513.20,163.38 514.50,164.60 C515.80,165.82 516.82,165.87 518.70,166.30 C520.58,166.73 522.95,167.00 525.80,167.20 C528.65,167.40 534.13,167.45 535.80,167.50" fill="none" stroke="#ee3a3a" stroke-width="1.0" stroke-linejoin="round" opacity="1" stroke-dasharray="2 2"/>
<rect x="297.8" y="5.8" width="238.99999999999994" height="162.6" fill="none" stroke="#505050" stroke-width="1.3"/>
<line x1="297.80" y1="168.4" x2="297.80" y2="171.9" stroke="#505050" stroke-width="1"/>
<text x="297.80" y="179.0" class="tl" textLength="14.6" lengthAdjust="spacingAndGlyphs">1350</text>
<line x1="337.63" y1="168.4" x2="337.63" y2="170.0" stroke="#505050" stroke-width="1"/>
<line x1="377.47" y1="168.4" x2="377.47" y2="171.9" stroke="#505050" stroke-width="1"/>
<text x="377.47" y="179.0" class="tl" textLength="14.6" lengthAdjust="spacingAndGlyphs">1500</text>
<line x1="417.30" y1="168.4" x2="417.30" y2="170.0" stroke="#505050" stroke-width="1"/>
<line x1="457.13" y1="168.4" x2="457.13" y2="171.9" stroke="#505050" stroke-width="1"/>
<text x="457.13" y="179.0" class="tl" textLength="14.6" lengthAdjust="spacingAndGlyphs">1650</text>
<line x1="496.97" y1="168.4" x2="496.97" y2="170.0" stroke="#505050" stroke-width="1"/>
<line x1="536.80" y1="168.4" x2="536.80" y2="171.9" stroke="#505050" stroke-width="1"/>
<text x="536.80" y="179.0" class="tl" textLength="14.6" lengthAdjust="spacingAndGlyphs">1800</text>
<text x="366.5" y="192.9" class="xt" style="letter-spacing:0.08px">Raman shift [cm<tspan dy="-4" font-size="7">-1</tspan><tspan dy="4">]</tspan></text>
<text transform="translate(289.2,142.8) rotate(-90)" class="yt" style="font-size:12px">Raman intensity [a.u.]</text>
<rect x="418.6" y="5.8" width="118.19999999999993" height="49.0" fill="#fff" stroke="#505050" stroke-width="1.2"/>
<line x1="420.2" y1="10" x2="433.5" y2="10" stroke="#3ea6ee" stroke-width="1.35"/>
<text x="435.1" y="12.20" class="lg" style="letter-spacing:-0.03px">No Heat Treatment; no Au; 5mJ - 1</text>
<line x1="420.2" y1="18.1" x2="433.5" y2="18.1" stroke="#5cc4f2" stroke-width="1.35"/>
<text x="435.1" y="20.30" class="lg" style="letter-spacing:-0.03px">No Heat Treatment; no Au; 5mJ - 2</text>
<line x1="420.2" y1="26.1" x2="433.5" y2="26.1" stroke="#5cc4f2" stroke-width="1.35"/>
<text x="435.1" y="28.30" class="lg" style="letter-spacing:-0.03px">No Heat Treatment; no Au; 5mJ - 3</text>
<line x1="420.2" y1="34" x2="433.5" y2="34" stroke="#e6389a" stroke-width="1.35"/>
<text x="435.1" y="36.20" class="lg" style="letter-spacing:-0.03px">No Heat Treatment; Au; 5mJ - 1</text>
<line x1="420.2" y1="42.1" x2="433.5" y2="42.1" stroke="#f07c8c" stroke-width="1.35"/>
<text x="435.1" y="44.30" class="lg" style="letter-spacing:-0.03px">No Heat Treatment; Au; 5mJ - 2</text>
<line x1="420.2" y1="50.1" x2="433.5" y2="50.1" stroke="#f4a86a" stroke-width="1.35"/>
<text x="435.1" y="52.30" class="lg" style="letter-spacing:-0.03px">No Heat Treatment; Au; 5mJ - 3</text>
<text x="413.1" y="215" class="pl">(b)</text>
<path d="M24.80,386.80 C25.27,386.40 26.65,385.12 27.60,384.40 C28.55,383.68 29.67,382.97 30.50,382.50 C31.33,382.03 31.90,381.60 32.60,381.60 C33.30,381.60 34.00,382.15 34.70,382.50 C35.40,382.85 36.10,383.73 36.80,383.70 C37.50,383.67 38.18,383.05 38.90,382.30 C39.62,381.55 40.38,379.57 41.10,379.20 C41.82,378.83 42.50,380.18 43.20,380.10 C43.90,380.02 44.60,379.40 45.30,378.70 C46.00,378.00 46.70,377.18 47.40,375.90 C48.10,374.62 48.78,373.00 49.50,371.00 C50.22,369.00 51.15,365.90 51.70,363.90 C52.25,361.90 52.33,359.00 52.80,359.00 C53.27,359.00 53.87,361.67 54.50,363.90 C55.13,366.13 55.90,369.82 56.60,372.40 C57.30,374.98 57.92,377.57 58.70,379.40 C59.48,381.23 60.47,383.17 61.30,383.40 C62.13,383.63 63.07,382.17 63.70,380.80 C64.33,379.43 64.63,378.02 65.10,375.20 C65.57,372.38 66.03,368.37 66.50,363.90 C66.97,359.43 67.52,353.20 67.90,348.40 C68.28,343.60 68.53,340.02 68.80,335.10 C69.07,330.18 69.20,324.35 69.50,318.90 C69.80,313.45 70.20,307.58 70.60,302.40 C71.00,297.22 71.38,292.35 71.90,287.80 C72.42,283.25 73.10,278.28 73.70,275.10 C74.30,271.92 74.98,269.98 75.50,268.70 C76.02,267.42 76.35,267.40 76.80,267.40 C77.25,267.40 77.65,267.73 78.20,268.70 C78.75,269.67 79.42,271.38 80.10,273.20 C80.78,275.02 81.63,277.17 82.30,279.60 C82.97,282.03 83.50,284.30 84.10,287.80 C84.70,291.30 85.30,296.63 85.90,300.60 C86.50,304.57 87.08,307.95 87.70,311.60 C88.32,315.25 88.98,319.27 89.60,322.50 C90.22,325.73 90.87,328.33 91.40,331.00 C91.93,333.67 92.22,335.13 92.80,338.50 C93.38,341.87 94.08,347.20 94.90,351.20 C95.72,355.20 96.77,358.97 97.70,362.50 C98.63,366.03 99.55,369.47 100.50,372.40 C101.45,375.33 102.45,378.17 103.40,380.10 C104.35,382.03 105.15,383.18 106.20,384.00 C107.25,384.82 108.30,384.90 109.70,385.00 C111.10,385.10 113.07,384.70 114.60,384.60 C116.13,384.50 117.48,384.37 118.90,384.40 C120.32,384.43 121.68,384.78 123.10,384.80 C124.52,384.82 126.17,384.77 127.40,384.50 C128.63,384.23 129.45,383.65 130.50,383.20 C131.55,382.75 132.82,382.00 133.70,381.80 C134.58,381.60 134.85,381.53 135.80,382.00 C136.75,382.47 138.22,383.93 139.40,384.60 C140.58,385.27 141.80,385.83 142.90,386.00 C144.00,386.17 144.92,385.77 146.00,385.60 C147.08,385.43 148.13,386.15 149.40,385.00 C150.67,383.85 152.37,381.68 153.60,378.70 C154.83,375.72 155.68,371.48 156.80,367.10 C157.92,362.72 159.18,352.92 160.30,352.40 C161.42,351.88 162.62,360.15 163.50,364.00 C164.38,367.85 164.80,372.60 165.60,375.50 C166.40,378.40 167.32,381.05 168.30,381.40 C169.28,381.75 170.55,380.68 171.50,377.60 C172.45,374.52 173.30,368.83 174.00,362.90 C174.70,356.97 175.22,348.15 175.70,342.00 C176.18,335.85 176.48,329.33 176.90,326.00 C177.32,322.67 177.73,321.67 178.20,322.00 C178.67,322.33 179.22,323.97 179.70,328.00 C180.18,332.03 180.55,338.98 181.10,346.20 C181.65,353.42 182.33,365.18 183.00,371.30 C183.67,377.42 184.23,380.45 185.10,382.90 C185.97,385.35 186.80,385.65 188.20,386.00 C189.60,386.35 191.92,385.87 193.50,385.00 C195.08,384.13 196.62,382.20 197.70,380.80 C198.78,379.40 199.33,378.48 200.00,376.60 C200.67,374.72 200.95,372.28 201.70,369.50 C202.45,366.72 203.57,363.82 204.50,359.90 C205.43,355.98 206.55,350.23 207.30,346.00 C208.05,341.77 208.40,338.37 209.00,334.50 C209.60,330.63 210.27,326.08 210.90,322.80 C211.53,319.52 212.13,317.72 212.80,314.80 C213.47,311.88 214.18,308.02 214.90,305.30 C215.62,302.58 216.43,300.07 217.10,298.50 C217.77,296.93 218.23,295.90 218.90,295.90 C219.57,295.90 220.37,296.68 221.10,298.50 C221.83,300.32 222.60,303.82 223.30,306.80 C224.00,309.78 224.72,313.20 225.30,316.40 C225.88,319.60 226.22,322.82 226.80,326.00 C227.38,329.18 228.22,332.15 228.80,335.50 C229.38,338.85 229.75,342.50 230.30,346.10 C230.85,349.70 231.45,353.42 232.10,357.10 C232.75,360.78 233.38,364.75 234.20,368.20 C235.02,371.65 235.85,375.50 237.00,377.80 C238.15,380.10 239.27,380.95 241.10,382.00 C242.93,383.05 245.70,383.60 248.00,384.10 C250.30,384.60 252.58,384.70 254.90,385.00 C257.22,385.30 260.73,385.75 261.90,385.90" fill="none" stroke="#5cc4f2" stroke-width="1.15" stroke-linejoin="round" opacity="1"/>
<path d="M24.80,386.80 C25.27,386.40 26.65,385.12 27.60,384.40 C28.55,383.68 29.67,382.97 30.50,382.50 C31.33,382.03 31.90,381.60 32.60,381.60 C33.30,381.60 34.00,382.15 34.70,382.50 C35.40,382.85 36.10,383.73 36.80,383.70 C37.50,383.67 38.18,383.05 38.90,382.30 C39.62,381.55 40.38,379.57 41.10,379.20 C41.82,378.83 42.50,380.18 43.20,380.10 C43.90,380.02 44.60,379.40 45.30,378.70 C46.00,378.00 46.70,377.18 47.40,375.90 C48.10,374.62 48.78,373.00 49.50,371.00 C50.22,369.00 51.15,365.90 51.70,363.90 C52.25,361.90 52.33,359.00 52.80,359.00 C53.27,359.00 53.87,361.67 54.50,363.90 C55.13,366.13 55.90,369.82 56.60,372.40 C57.30,374.98 57.92,377.57 58.70,379.40 C59.48,381.23 60.47,383.17 61.30,383.40 C62.13,383.63 63.07,382.17 63.70,380.80 C64.33,379.43 64.63,378.02 65.10,375.20 C65.57,372.38 66.03,368.37 66.50,363.90 C66.97,359.43 67.52,353.20 67.90,348.40 C68.28,343.60 68.53,340.02 68.80,335.10 C69.07,330.18 69.20,324.35 69.50,318.90 C69.80,313.45 70.20,307.58 70.60,302.40 C71.00,297.22 71.38,292.35 71.90,287.80 C72.42,283.25 73.10,278.28 73.70,275.10 C74.30,271.92 74.98,269.98 75.50,268.70 C76.02,267.42 76.35,267.40 76.80,267.40 C77.25,267.40 77.65,267.73 78.20,268.70 C78.75,269.67 79.42,271.38 80.10,273.20 C80.78,275.02 81.63,277.17 82.30,279.60 C82.97,282.03 83.50,284.30 84.10,287.80 C84.70,291.30 85.30,296.63 85.90,300.60 C86.50,304.57 87.08,307.95 87.70,311.60 C88.32,315.25 88.98,319.27 89.60,322.50 C90.22,325.73 90.87,328.33 91.40,331.00 C91.93,333.67 92.22,335.13 92.80,338.50 C93.38,341.87 94.08,347.20 94.90,351.20 C95.72,355.20 96.77,358.97 97.70,362.50 C98.63,366.03 99.55,369.47 100.50,372.40 C101.45,375.33 102.45,378.17 103.40,380.10 C104.35,382.03 105.15,383.18 106.20,384.00 C107.25,384.82 108.30,384.90 109.70,385.00 C111.10,385.10 113.07,384.70 114.60,384.60 C116.13,384.50 117.48,384.37 118.90,384.40 C120.32,384.43 121.68,384.78 123.10,384.80 C124.52,384.82 126.17,384.77 127.40,384.50 C128.63,384.23 129.45,383.65 130.50,383.20 C131.55,382.75 132.82,382.00 133.70,381.80 C134.58,381.60 134.85,381.53 135.80,382.00 C136.75,382.47 138.22,383.93 139.40,384.60 C140.58,385.27 141.80,385.83 142.90,386.00 C144.00,386.17 144.92,385.77 146.00,385.60 C147.08,385.43 148.13,386.15 149.40,385.00 C150.67,383.85 152.37,381.68 153.60,378.70 C154.83,375.72 155.68,371.48 156.80,367.10 C157.92,362.72 159.18,352.92 160.30,352.40 C161.42,351.88 162.62,360.15 163.50,364.00 C164.38,367.85 164.80,372.60 165.60,375.50 C166.40,378.40 167.32,381.05 168.30,381.40 C169.28,381.75 170.55,380.68 171.50,377.60 C172.45,374.52 173.30,368.83 174.00,362.90 C174.70,356.97 175.22,348.15 175.70,342.00 C176.18,335.85 176.48,329.33 176.90,326.00 C177.32,322.67 177.73,321.67 178.20,322.00 C178.67,322.33 179.22,323.97 179.70,328.00 C180.18,332.03 180.55,338.98 181.10,346.20 C181.65,353.42 182.33,365.18 183.00,371.30 C183.67,377.42 184.23,380.45 185.10,382.90 C185.97,385.35 186.80,385.65 188.20,386.00 C189.60,386.35 191.92,385.87 193.50,385.00 C195.08,384.13 196.62,382.20 197.70,380.80 C198.78,379.40 199.33,378.48 200.00,376.60 C200.67,374.72 200.95,372.28 201.70,369.50 C202.45,366.72 203.57,363.82 204.50,359.90 C205.43,355.98 206.55,350.23 207.30,346.00 C208.05,341.77 208.40,338.37 209.00,334.50 C209.60,330.63 210.27,326.08 210.90,322.80 C211.53,319.52 212.13,317.72 212.80,314.80 C213.47,311.88 214.18,308.02 214.90,305.30 C215.62,302.58 216.43,300.07 217.10,298.50 C217.77,296.93 218.23,295.90 218.90,295.90 C219.57,295.90 220.37,296.68 221.10,298.50 C221.83,300.32 222.60,303.82 223.30,306.80 C224.00,309.78 224.72,313.20 225.30,316.40 C225.88,319.60 226.22,322.82 226.80,326.00 C227.38,329.18 228.22,332.15 228.80,335.50 C229.38,338.85 229.75,342.50 230.30,346.10 C230.85,349.70 231.45,353.42 232.10,357.10 C232.75,360.78 233.38,364.75 234.20,368.20 C235.02,371.65 235.85,375.50 237.00,377.80 C238.15,380.10 239.27,380.95 241.10,382.00 C242.93,383.05 245.70,383.60 248.00,384.10 C250.30,384.60 252.58,384.70 254.90,385.00 C257.22,385.30 260.73,385.75 261.90,385.90" fill="none" stroke="#3ea6ee" stroke-width="1.0" stroke-linejoin="round" opacity="1" stroke-dasharray="2 2"/>
<path d="M24.80,386.80 C25.27,386.40 26.65,385.12 27.60,384.40 C28.55,383.68 29.67,382.97 30.50,382.50 C31.33,382.03 31.90,381.60 32.60,381.60 C33.30,381.60 34.00,382.15 34.70,382.50 C35.40,382.85 36.10,383.73 36.80,383.70 C37.50,383.67 38.18,383.05 38.90,382.30 C39.62,381.55 40.38,379.57 41.10,379.20 C41.82,378.83 42.50,380.18 43.20,380.10 C43.90,380.02 44.60,379.40 45.30,378.70 C46.00,378.00 46.70,377.18 47.40,375.90 C48.10,374.62 48.78,373.00 49.50,371.00 C50.22,369.00 51.15,365.90 51.70,363.90 C52.25,361.90 52.33,359.00 52.80,359.00 C53.27,359.00 53.87,361.67 54.50,363.90 C55.13,366.13 55.90,369.82 56.60,372.40 C57.30,374.98 57.92,377.57 58.70,379.40 C59.48,381.23 60.47,383.17 61.30,383.40 C62.13,383.63 63.07,382.17 63.70,380.80 C64.33,379.43 64.63,378.02 65.10,375.20 C65.57,372.38 66.03,368.37 66.50,363.90 C66.97,359.43 67.52,353.20 67.90,348.40 C68.28,343.60 68.53,340.02 68.80,335.10 C69.07,330.18 69.20,324.35 69.50,318.90 C69.80,313.45 70.20,307.58 70.60,302.40 C71.00,297.22 71.38,292.35 71.90,287.80 C72.42,283.25 73.10,278.28 73.70,275.10 C74.30,271.92 74.98,269.98 75.50,268.70 C76.02,267.42 76.35,267.40 76.80,267.40 C77.25,267.40 77.65,267.73 78.20,268.70 C78.75,269.67 79.42,271.38 80.10,273.20 C80.78,275.02 81.63,277.17 82.30,279.60 C82.97,282.03 83.50,284.30 84.10,287.80 C84.70,291.30 85.30,296.63 85.90,300.60 C86.50,304.57 87.08,307.95 87.70,311.60 C88.32,315.25 88.98,319.27 89.60,322.50 C90.22,325.73 90.87,328.33 91.40,331.00 C91.93,333.67 92.22,335.13 92.80,338.50 C93.38,341.87 94.08,347.20 94.90,351.20 C95.72,355.20 96.77,358.97 97.70,362.50 C98.63,366.03 99.55,369.47 100.50,372.40 C101.45,375.33 102.45,378.23 103.40,380.10 C104.35,381.97 105.15,382.92 106.20,383.60 C107.25,384.28 108.30,384.27 109.70,384.20 C111.10,384.13 113.07,383.43 114.60,383.20 C116.13,382.97 117.48,382.73 118.90,382.80 C120.32,382.87 121.68,383.52 123.10,383.60 C124.52,383.68 126.17,383.73 127.40,383.30 C128.63,382.87 129.45,381.58 130.50,381.00 C131.55,380.42 132.82,379.83 133.70,379.80 C134.58,379.77 134.85,380.07 135.80,380.80 C136.75,381.53 138.22,383.33 139.40,384.20 C140.58,385.07 141.80,385.77 142.90,386.00 C144.00,386.23 144.92,385.77 146.00,385.60 C147.08,385.43 148.13,386.15 149.40,385.00 C150.67,383.85 152.37,381.37 153.60,378.70 C154.83,376.03 155.68,372.50 156.80,369.00 C157.92,365.50 159.18,358.20 160.30,357.70 C161.42,357.20 162.62,363.03 163.50,366.00 C164.38,368.97 164.80,372.93 165.60,375.50 C166.40,378.07 167.32,381.05 168.30,381.40 C169.28,381.75 170.55,380.68 171.50,377.60 C172.45,374.52 173.30,369.17 174.00,362.90 C174.70,356.63 175.22,347.48 175.70,340.00 C176.18,332.52 176.48,322.75 176.90,318.00 C177.32,313.25 177.73,311.50 178.20,311.50 C178.67,311.50 179.22,312.22 179.70,318.00 C180.18,323.78 180.55,337.32 181.10,346.20 C181.65,355.08 182.33,365.18 183.00,371.30 C183.67,377.42 184.23,380.45 185.10,382.90 C185.97,385.35 186.80,385.65 188.20,386.00 C189.60,386.35 191.92,385.87 193.50,385.00 C195.08,384.13 196.62,382.20 197.70,380.80 C198.78,379.40 199.33,378.48 200.00,376.60 C200.67,374.72 200.95,372.28 201.70,369.50 C202.45,366.72 203.57,363.82 204.50,359.90 C205.43,355.98 206.55,350.23 207.30,346.00 C208.05,341.77 208.40,338.37 209.00,334.50 C209.60,330.63 210.27,326.08 210.90,322.80 C211.53,319.52 212.13,317.72 212.80,314.80 C213.47,311.88 214.18,308.55 214.90,305.30 C215.62,302.05 216.43,297.43 217.10,295.30 C217.77,293.17 218.23,292.42 218.90,292.50 C219.57,292.58 220.37,293.42 221.10,295.80 C221.83,298.18 222.60,303.37 223.30,306.80 C224.00,310.23 224.72,313.20 225.30,316.40 C225.88,319.60 226.22,322.82 226.80,326.00 C227.38,329.18 228.22,332.15 228.80,335.50 C229.38,338.85 229.75,342.50 230.30,346.10 C230.85,349.70 231.45,353.42 232.10,357.10 C232.75,360.78 233.38,364.75 234.20,368.20 C235.02,371.65 235.85,375.50 237.00,377.80 C238.15,380.10 239.27,380.95 241.10,382.00 C242.93,383.05 245.70,383.60 248.00,384.10 C250.30,384.60 252.58,384.70 254.90,385.00 C257.22,385.30 260.73,385.75 261.90,385.90" fill="none" stroke="#f39a52" stroke-width="1.15" stroke-linejoin="round" opacity="1"/>
<path d="M24.80,386.80 C25.27,386.40 26.65,385.12 27.60,384.40 C28.55,383.68 29.67,382.97 30.50,382.50 C31.33,382.03 31.90,381.60 32.60,381.60 C33.30,381.60 34.00,382.15 34.70,382.50 C35.40,382.85 36.10,383.73 36.80,383.70 C37.50,383.67 38.18,383.05 38.90,382.30 C39.62,381.55 40.38,379.57 41.10,379.20 C41.82,378.83 42.50,380.18 43.20,380.10 C43.90,380.02 44.60,379.40 45.30,378.70 C46.00,378.00 46.70,377.18 47.40,375.90 C48.10,374.62 48.78,373.00 49.50,371.00 C50.22,369.00 51.15,365.90 51.70,363.90 C52.25,361.90 52.33,359.00 52.80,359.00 C53.27,359.00 53.87,361.67 54.50,363.90 C55.13,366.13 55.90,369.82 56.60,372.40 C57.30,374.98 57.92,377.57 58.70,379.40 C59.48,381.23 60.47,383.17 61.30,383.40 C62.13,383.63 63.07,382.17 63.70,380.80 C64.33,379.43 64.63,378.02 65.10,375.20 C65.57,372.38 66.03,368.37 66.50,363.90 C66.97,359.43 67.52,353.20 67.90,348.40 C68.28,343.60 68.53,340.02 68.80,335.10 C69.07,330.18 69.20,324.35 69.50,318.90 C69.80,313.45 70.20,307.58 70.60,302.40 C71.00,297.22 71.38,292.35 71.90,287.80 C72.42,283.25 73.10,278.28 73.70,275.10 C74.30,271.92 74.98,269.98 75.50,268.70 C76.02,267.42 76.35,267.40 76.80,267.40 C77.25,267.40 77.65,267.73 78.20,268.70 C78.75,269.67 79.42,271.38 80.10,273.20 C80.78,275.02 81.63,277.17 82.30,279.60 C82.97,282.03 83.50,284.30 84.10,287.80 C84.70,291.30 85.30,296.63 85.90,300.60 C86.50,304.57 87.08,307.95 87.70,311.60 C88.32,315.25 88.98,319.27 89.60,322.50 C90.22,325.73 90.87,328.33 91.40,331.00 C91.93,333.67 92.22,335.13 92.80,338.50 C93.38,341.87 94.08,347.20 94.90,351.20 C95.72,355.20 96.77,358.97 97.70,362.50 C98.63,366.03 99.55,369.47 100.50,372.40 C101.45,375.33 102.45,378.23 103.40,380.10 C104.35,381.97 105.15,382.92 106.20,383.60 C107.25,384.28 108.30,384.27 109.70,384.20 C111.10,384.13 113.07,383.43 114.60,383.20 C116.13,382.97 117.48,382.73 118.90,382.80 C120.32,382.87 121.68,383.52 123.10,383.60 C124.52,383.68 126.17,383.73 127.40,383.30 C128.63,382.87 129.45,381.58 130.50,381.00 C131.55,380.42 132.82,379.83 133.70,379.80 C134.58,379.77 134.85,380.07 135.80,380.80 C136.75,381.53 138.22,383.33 139.40,384.20 C140.58,385.07 141.80,385.77 142.90,386.00 C144.00,386.23 144.92,385.77 146.00,385.60 C147.08,385.43 148.13,386.15 149.40,385.00 C150.67,383.85 152.37,381.37 153.60,378.70 C154.83,376.03 155.68,372.50 156.80,369.00 C157.92,365.50 159.18,358.20 160.30,357.70 C161.42,357.20 162.62,363.03 163.50,366.00 C164.38,368.97 164.80,372.93 165.60,375.50 C166.40,378.07 167.32,381.05 168.30,381.40 C169.28,381.75 170.55,380.68 171.50,377.60 C172.45,374.52 173.30,368.83 174.00,362.90 C174.70,356.97 175.22,348.82 175.70,342.00 C176.18,335.18 176.48,326.08 176.90,322.00 C177.32,317.92 177.73,317.25 178.20,317.50 C178.67,317.75 179.22,318.72 179.70,323.50 C180.18,328.28 180.55,338.23 181.10,346.20 C181.65,354.17 182.33,365.18 183.00,371.30 C183.67,377.42 184.23,380.45 185.10,382.90 C185.97,385.35 186.80,385.65 188.20,386.00 C189.60,386.35 191.92,385.87 193.50,385.00 C195.08,384.13 196.62,382.20 197.70,380.80 C198.78,379.40 199.33,378.48 200.00,376.60 C200.67,374.72 200.95,372.28 201.70,369.50 C202.45,366.72 203.57,363.82 204.50,359.90 C205.43,355.98 206.55,350.23 207.30,346.00 C208.05,341.77 208.40,338.37 209.00,334.50 C209.60,330.63 210.27,326.08 210.90,322.80 C211.53,319.52 212.13,317.72 212.80,314.80 C213.47,311.88 214.18,308.43 214.90,305.30 C215.62,302.17 216.43,297.97 217.10,296.00 C217.77,294.03 218.23,293.42 218.90,293.50 C219.57,293.58 220.37,294.28 221.10,296.50 C221.83,298.72 222.60,303.48 223.30,306.80 C224.00,310.12 224.72,313.20 225.30,316.40 C225.88,319.60 226.22,322.82 226.80,326.00 C227.38,329.18 228.22,332.15 228.80,335.50 C229.38,338.85 229.75,342.50 230.30,346.10 C230.85,349.70 231.45,353.42 232.10,357.10 C232.75,360.78 233.38,364.75 234.20,368.20 C235.02,371.65 235.85,375.50 237.00,377.80 C238.15,380.10 239.27,380.95 241.10,382.00 C242.93,383.05 245.70,383.60 248.00,384.10 C250.30,384.60 252.58,384.70 254.90,385.00 C257.22,385.30 260.73,385.75 261.90,385.90" fill="none" stroke="#ee3a3a" stroke-width="1.0" stroke-linejoin="round" opacity="1" stroke-dasharray="2 2"/>
<rect x="24.5" y="225.5" width="238.2" height="161.2" fill="none" stroke="#505050" stroke-width="1.3"/>
<line x1="24.50" y1="386.7" x2="24.50" y2="390.2" stroke="#505050" stroke-width="1"/>
<text x="24.50" y="397.59999999999997" class="tl" textLength="14.6" lengthAdjust="spacingAndGlyphs">1350</text>
<line x1="64.20" y1="386.7" x2="64.20" y2="388.3" stroke="#505050" stroke-width="1"/>
<line x1="103.90" y1="386.7" x2="103.90" y2="390.2" stroke="#505050" stroke-width="1"/>
<text x="103.90" y="397.59999999999997" class="tl" textLength="14.6" lengthAdjust="spacingAndGlyphs">1500</text>
<line x1="143.60" y1="386.7" x2="143.60" y2="388.3" stroke="#505050" stroke-width="1"/>
<line x1="183.30" y1="386.7" x2="183.30" y2="390.2" stroke="#505050" stroke-width="1"/>
<text x="183.30" y="397.59999999999997" class="tl" textLength="14.6" lengthAdjust="spacingAndGlyphs">1650</text>
<line x1="223.00" y1="386.7" x2="223.00" y2="388.3" stroke="#505050" stroke-width="1"/>
<line x1="262.70" y1="386.7" x2="262.70" y2="390.2" stroke="#505050" stroke-width="1"/>
<text x="262.70" y="397.59999999999997" class="tl" textLength="14.6" lengthAdjust="spacingAndGlyphs">1800</text>
<text x="90.2" y="414.2" class="xt" style="letter-spacing:0.2px">Raman shift [cm<tspan dy="-4" font-size="7">-1</tspan><tspan dy="4">]</tspan></text>
<text transform="translate(13.9,363.6) rotate(-90)" class="yt" style="font-size:11.85px">Raman intensity [a.u.]</text>
<rect x="153.1" y="225.5" width="109.6" height="48.89999999999998" fill="#fff" stroke="#505050" stroke-width="1.2"/>
<line x1="154.2" y1="230.1" x2="167.9" y2="230.1" stroke="#3ea6ee" stroke-width="1.35"/>
<text x="169.8" y="232.30" class="lg" style="letter-spacing:-0.05px">Heat Treatment; no Au; Ref. - 1</text>
<line x1="154.2" y1="237.9" x2="167.9" y2="237.9" stroke="#5cc4f2" stroke-width="1.35"/>
<text x="169.8" y="240.10" class="lg" style="letter-spacing:-0.05px">Heat Treatment; no Au; Ref. <tspan dx="1.1">- 2</tspan></text>
<line x1="154.2" y1="245.7" x2="167.9" y2="245.7" stroke="#5cc4f2" stroke-width="1.35"/>
<text x="169.8" y="247.90" class="lg" style="letter-spacing:-0.05px">Heat Treatment; no Au; Ref. - 3</text>
<line x1="154.2" y1="253.5" x2="167.9" y2="253.5" stroke="#e6389a" stroke-width="1.35"/>
<text x="169.8" y="255.70" class="lg" style="letter-spacing:-0.05px">Heat Treatment; Au; Ref. - 1</text>
<line x1="154.2" y1="261.7" x2="167.9" y2="261.7" stroke="#f07c8c" stroke-width="1.35"/>
<text x="169.8" y="263.90" class="lg" style="letter-spacing:-0.05px">Heat Treatment; Au; Ref. - 2</text>
<line x1="154.2" y1="269.4" x2="167.9" y2="269.4" stroke="#f4a86a" stroke-width="1.35"/>
<text x="169.8" y="271.60" class="lg" style="letter-spacing:-0.05px">Heat Treatment; Au; Ref. - 3</text>
<text x="138.3" y="434.9" class="pl">(c)</text>
<path d="M298.10,388.20 C298.57,387.80 299.95,386.60 300.90,385.80 C301.85,385.00 302.97,383.80 303.80,383.40 C304.63,383.00 305.20,383.23 305.90,383.40 C306.60,383.57 307.30,384.00 308.00,384.40 C308.70,384.80 309.28,386.15 310.10,385.80 C310.92,385.45 312.07,382.85 312.90,382.30 C313.73,381.75 314.38,382.75 315.10,382.50 C315.82,382.25 316.50,381.47 317.20,380.80 C317.90,380.13 318.60,379.22 319.30,378.50 C320.00,377.78 320.70,377.25 321.40,376.50 C322.10,375.75 322.78,374.92 323.50,374.00 C324.22,373.08 325.05,371.25 325.70,371.00 C326.35,370.75 326.82,371.33 327.40,372.50 C327.98,373.67 328.55,376.28 329.20,378.00 C329.85,379.72 330.48,381.50 331.30,382.80 C332.12,384.10 333.27,385.68 334.10,385.80 C334.93,385.92 335.53,384.55 336.30,383.50 C337.07,382.45 337.97,381.80 338.70,379.50 C339.43,377.20 340.12,374.40 340.70,369.70 C341.28,365.00 341.78,357.78 342.20,351.30 C342.62,344.82 342.87,337.30 343.20,330.80 C343.53,324.30 343.85,317.77 344.20,312.30 C344.55,306.83 344.95,302.45 345.30,298.00 C345.65,293.55 345.87,289.37 346.30,285.60 C346.73,281.83 347.22,277.97 347.90,275.40 C348.58,272.83 349.57,270.48 350.40,270.20 C351.23,269.92 352.05,272.13 352.90,273.70 C353.75,275.27 354.73,277.22 355.50,279.60 C356.27,281.98 356.88,284.60 357.50,288.00 C358.12,291.40 358.68,295.95 359.20,300.00 C359.72,304.05 360.02,307.85 360.60,312.30 C361.18,316.75 362.02,321.92 362.70,326.70 C363.38,331.48 363.85,336.22 364.70,341.00 C365.55,345.78 366.77,351.30 367.80,355.40 C368.83,359.50 369.87,362.42 370.90,365.60 C371.93,368.78 372.88,371.37 374.00,374.50 C375.12,377.63 376.40,382.22 377.60,384.40 C378.80,386.58 379.90,387.02 381.20,387.60 C382.50,388.18 384.00,388.08 385.40,387.90 C386.80,387.72 388.18,386.90 389.60,386.50 C391.02,386.10 392.48,385.50 393.90,385.50 C395.32,385.50 396.68,386.33 398.10,386.50 C399.52,386.67 401.22,386.62 402.40,386.50 C403.58,386.38 404.03,386.15 405.20,385.80 C406.37,385.45 408.12,384.28 409.40,384.40 C410.68,384.52 411.72,385.92 412.90,386.50 C414.08,387.08 415.43,387.72 416.50,387.90 C417.57,388.08 417.88,387.75 419.30,387.60 C420.72,387.45 423.43,388.27 425.00,387.00 C426.57,385.73 427.63,383.03 428.70,380.00 C429.77,376.97 430.62,372.13 431.40,368.80 C432.18,365.47 432.77,362.17 433.40,360.00 C434.03,357.83 434.58,355.72 435.20,355.80 C435.82,355.88 436.47,358.17 437.10,360.50 C437.73,362.83 438.28,366.68 439.00,369.80 C439.72,372.92 440.63,377.08 441.40,379.20 C442.17,381.32 442.85,382.50 443.60,382.50 C444.35,382.50 445.12,381.93 445.90,379.20 C446.68,376.47 447.58,370.78 448.30,366.10 C449.02,361.42 449.67,355.20 450.20,351.10 C450.73,347.00 451.10,343.68 451.50,341.50 C451.90,339.32 452.13,337.02 452.60,338.00 C453.07,338.98 453.77,343.03 454.30,347.40 C454.83,351.77 455.23,358.90 455.80,364.20 C456.37,369.50 456.98,375.52 457.70,379.20 C458.42,382.88 459.02,384.90 460.10,386.30 C461.18,387.70 463.17,387.45 464.20,387.60 C465.23,387.75 465.25,387.82 466.30,387.20 C467.35,386.58 469.20,385.50 470.50,383.90 C471.80,382.30 473.03,380.08 474.10,377.60 C475.17,375.12 475.97,372.08 476.90,369.00 C477.83,365.92 478.63,362.77 479.70,359.10 C480.77,355.43 482.40,350.23 483.30,347.00 C484.20,343.77 484.50,342.38 485.10,339.70 C485.70,337.02 486.28,333.85 486.90,330.90 C487.52,327.95 488.10,324.72 488.80,322.00 C489.50,319.28 490.35,316.68 491.10,314.60 C491.85,312.52 492.63,310.73 493.30,309.50 C493.97,308.27 494.43,307.03 495.10,307.20 C495.77,307.37 496.62,308.53 497.30,310.50 C497.98,312.47 498.52,315.85 499.20,319.00 C499.88,322.15 500.67,326.18 501.40,329.40 C502.13,332.62 502.92,335.37 503.60,338.30 C504.28,341.23 504.75,344.00 505.50,347.00 C506.25,350.00 507.32,352.87 508.10,356.30 C508.88,359.73 509.37,363.82 510.20,367.60 C511.03,371.38 512.03,376.17 513.10,379.00 C514.17,381.83 515.42,383.42 516.60,384.60 C517.78,385.78 518.90,385.85 520.20,386.10 C521.50,386.35 522.98,385.98 524.40,386.10 C525.82,386.22 527.28,386.90 528.70,386.80 C530.12,386.70 531.60,385.55 532.90,385.50 C534.20,385.45 535.60,386.12 536.50,386.50 C537.40,386.88 538.00,387.58 538.30,387.80" fill="none" stroke="#5cc4f2" stroke-width="1.15" stroke-linejoin="round" opacity="1"/>
<path d="M298.10,388.20 C298.57,387.80 299.95,386.60 300.90,385.80 C301.85,385.00 302.97,383.80 303.80,383.40 C304.63,383.00 305.20,383.23 305.90,383.40 C306.60,383.57 307.30,384.00 308.00,384.40 C308.70,384.80 309.28,386.15 310.10,385.80 C310.92,385.45 312.07,382.85 312.90,382.30 C313.73,381.75 314.38,382.75 315.10,382.50 C315.82,382.25 316.50,381.47 317.20,380.80 C317.90,380.13 318.60,379.22 319.30,378.50 C320.00,377.78 320.70,377.25 321.40,376.50 C322.10,375.75 322.78,374.92 323.50,374.00 C324.22,373.08 325.05,371.25 325.70,371.00 C326.35,370.75 326.82,371.33 327.40,372.50 C327.98,373.67 328.55,376.28 329.20,378.00 C329.85,379.72 330.48,381.50 331.30,382.80 C332.12,384.10 333.27,385.68 334.10,385.80 C334.93,385.92 335.53,384.55 336.30,383.50 C337.07,382.45 337.97,381.80 338.70,379.50 C339.43,377.20 340.12,374.40 340.70,369.70 C341.28,365.00 341.78,357.78 342.20,351.30 C342.62,344.82 342.87,337.30 343.20,330.80 C343.53,324.30 343.85,317.77 344.20,312.30 C344.55,306.83 344.95,302.45 345.30,298.00 C345.65,293.55 345.87,289.37 346.30,285.60 C346.73,281.83 347.22,277.97 347.90,275.40 C348.58,272.83 349.57,270.48 350.40,270.20 C351.23,269.92 352.05,272.13 352.90,273.70 C353.75,275.27 354.73,277.22 355.50,279.60 C356.27,281.98 356.88,284.60 357.50,288.00 C358.12,291.40 358.68,295.95 359.20,300.00 C359.72,304.05 360.02,307.85 360.60,312.30 C361.18,316.75 362.02,321.92 362.70,326.70 C363.38,331.48 363.85,336.22 364.70,341.00 C365.55,345.78 366.77,351.30 367.80,355.40 C368.83,359.50 369.87,362.42 370.90,365.60 C371.93,368.78 372.88,371.37 374.00,374.50 C375.12,377.63 376.40,382.22 377.60,384.40 C378.80,386.58 379.90,387.02 381.20,387.60 C382.50,388.18 384.00,388.08 385.40,387.90 C386.80,387.72 388.18,386.90 389.60,386.50 C391.02,386.10 392.48,385.50 393.90,385.50 C395.32,385.50 396.68,386.33 398.10,386.50 C399.52,386.67 401.22,386.62 402.40,386.50 C403.58,386.38 404.03,386.15 405.20,385.80 C406.37,385.45 408.12,384.28 409.40,384.40 C410.68,384.52 411.72,385.92 412.90,386.50 C414.08,387.08 415.43,387.72 416.50,387.90 C417.57,388.08 417.88,387.75 419.30,387.60 C420.72,387.45 423.43,388.27 425.00,387.00 C426.57,385.73 427.63,383.03 428.70,380.00 C429.77,376.97 430.62,372.13 431.40,368.80 C432.18,365.47 432.77,362.17 433.40,360.00 C434.03,357.83 434.58,355.72 435.20,355.80 C435.82,355.88 436.47,358.17 437.10,360.50 C437.73,362.83 438.28,366.68 439.00,369.80 C439.72,372.92 440.63,377.08 441.40,379.20 C442.17,381.32 442.85,382.50 443.60,382.50 C444.35,382.50 445.12,381.93 445.90,379.20 C446.68,376.47 447.58,370.78 448.30,366.10 C449.02,361.42 449.67,355.20 450.20,351.10 C450.73,347.00 451.10,343.68 451.50,341.50 C451.90,339.32 452.13,337.02 452.60,338.00 C453.07,338.98 453.77,343.03 454.30,347.40 C454.83,351.77 455.23,358.90 455.80,364.20 C456.37,369.50 456.98,375.52 457.70,379.20 C458.42,382.88 459.02,384.90 460.10,386.30 C461.18,387.70 463.17,387.45 464.20,387.60 C465.23,387.75 465.25,387.82 466.30,387.20 C467.35,386.58 469.20,385.50 470.50,383.90 C471.80,382.30 473.03,380.08 474.10,377.60 C475.17,375.12 475.97,372.08 476.90,369.00 C477.83,365.92 478.63,362.77 479.70,359.10 C480.77,355.43 482.40,350.23 483.30,347.00 C484.20,343.77 484.50,342.38 485.10,339.70 C485.70,337.02 486.28,333.85 486.90,330.90 C487.52,327.95 488.10,324.72 488.80,322.00 C489.50,319.28 490.35,316.68 491.10,314.60 C491.85,312.52 492.63,310.73 493.30,309.50 C493.97,308.27 494.43,307.03 495.10,307.20 C495.77,307.37 496.62,308.53 497.30,310.50 C497.98,312.47 498.52,315.85 499.20,319.00 C499.88,322.15 500.67,326.18 501.40,329.40 C502.13,332.62 502.92,335.37 503.60,338.30 C504.28,341.23 504.75,344.00 505.50,347.00 C506.25,350.00 507.32,352.87 508.10,356.30 C508.88,359.73 509.37,363.82 510.20,367.60 C511.03,371.38 512.03,376.17 513.10,379.00 C514.17,381.83 515.42,383.42 516.60,384.60 C517.78,385.78 518.90,385.85 520.20,386.10 C521.50,386.35 522.98,385.98 524.40,386.10 C525.82,386.22 527.28,386.90 528.70,386.80 C530.12,386.70 531.60,385.55 532.90,385.50 C534.20,385.45 535.60,386.12 536.50,386.50 C537.40,386.88 538.00,387.58 538.30,387.80" fill="none" stroke="#3ea6ee" stroke-width="1.0" stroke-linejoin="round" opacity="1" stroke-dasharray="2 2"/>
<path d="M298.10,388.20 C298.57,387.80 299.95,386.60 300.90,385.80 C301.85,385.00 302.97,383.80 303.80,383.40 C304.63,383.00 305.20,383.23 305.90,383.40 C306.60,383.57 307.30,384.35 308.00,384.40 C308.70,384.45 309.28,384.42 310.10,383.70 C310.92,382.98 312.07,380.45 312.90,380.10 C313.73,379.75 314.38,381.60 315.10,381.60 C315.82,381.60 316.50,380.70 317.20,380.10 C317.90,379.50 318.60,378.70 319.30,378.00 C320.00,377.30 320.70,377.15 321.40,375.90 C322.10,374.65 322.78,372.15 323.50,370.50 C324.22,368.85 325.05,366.17 325.70,366.00 C326.35,365.83 326.82,367.50 327.40,369.50 C327.98,371.50 328.55,375.78 329.20,378.00 C329.85,380.22 330.48,381.73 331.30,382.80 C332.12,383.87 333.27,384.28 334.10,384.40 C334.93,384.52 335.53,384.32 336.30,383.50 C337.07,382.68 337.97,381.80 338.70,379.50 C339.43,377.20 340.12,374.40 340.70,369.70 C341.28,365.00 341.78,357.78 342.20,351.30 C342.62,344.82 342.87,337.30 343.20,330.80 C343.53,324.30 343.85,317.77 344.20,312.30 C344.55,306.83 344.95,302.45 345.30,298.00 C345.65,293.55 345.87,289.37 346.30,285.60 C346.73,281.83 347.22,277.97 347.90,275.40 C348.58,272.83 349.57,270.48 350.40,270.20 C351.23,269.92 352.05,272.13 352.90,273.70 C353.75,275.27 354.73,277.22 355.50,279.60 C356.27,281.98 356.88,284.60 357.50,288.00 C358.12,291.40 358.68,295.95 359.20,300.00 C359.72,304.05 360.02,307.85 360.60,312.30 C361.18,316.75 362.02,321.92 362.70,326.70 C363.38,331.48 363.85,336.22 364.70,341.00 C365.55,345.78 366.77,351.30 367.80,355.40 C368.83,359.50 369.87,362.42 370.90,365.60 C371.93,368.78 372.88,371.37 374.00,374.50 C375.12,377.63 376.40,382.22 377.60,384.40 C378.80,386.58 379.90,387.02 381.20,387.60 C382.50,388.18 384.00,388.08 385.40,387.90 C386.80,387.72 388.18,386.90 389.60,386.50 C391.02,386.10 392.48,385.50 393.90,385.50 C395.32,385.50 396.68,386.33 398.10,386.50 C399.52,386.67 401.22,386.62 402.40,386.50 C403.58,386.38 404.03,386.15 405.20,385.80 C406.37,385.45 408.12,384.28 409.40,384.40 C410.68,384.52 411.72,385.92 412.90,386.50 C414.08,387.08 415.43,387.72 416.50,387.90 C417.57,388.08 417.88,387.75 419.30,387.60 C420.72,387.45 423.43,388.27 425.00,387.00 C426.57,385.73 427.63,383.03 428.70,380.00 C429.77,376.97 430.62,372.63 431.40,368.80 C432.18,364.97 432.77,359.95 433.40,357.00 C434.03,354.05 434.58,350.93 435.20,351.10 C435.82,351.27 436.47,354.88 437.10,358.00 C437.73,361.12 438.28,366.27 439.00,369.80 C439.72,373.33 440.63,377.08 441.40,379.20 C442.17,381.32 442.85,382.50 443.60,382.50 C444.35,382.50 445.12,381.93 445.90,379.20 C446.68,376.47 447.58,370.78 448.30,366.10 C449.02,361.42 449.67,355.78 450.20,351.10 C450.73,346.42 451.10,340.95 451.50,338.00 C451.90,335.05 452.13,332.40 452.60,333.40 C453.07,334.40 453.77,338.87 454.30,344.00 C454.83,349.13 455.23,358.33 455.80,364.20 C456.37,370.07 456.98,375.52 457.70,379.20 C458.42,382.88 459.02,384.90 460.10,386.30 C461.18,387.70 463.17,387.45 464.20,387.60 C465.23,387.75 465.25,387.82 466.30,387.20 C467.35,386.58 469.20,385.50 470.50,383.90 C471.80,382.30 473.03,380.08 474.10,377.60 C475.17,375.12 475.97,372.08 476.90,369.00 C477.83,365.92 478.63,362.77 479.70,359.10 C480.77,355.43 482.40,350.23 483.30,347.00 C484.20,343.77 484.50,342.38 485.10,339.70 C485.70,337.02 486.28,333.85 486.90,330.90 C487.52,327.95 488.10,324.72 488.80,322.00 C489.50,319.28 490.35,317.02 491.10,314.60 C491.85,312.18 492.63,309.18 493.30,307.50 C493.97,305.82 494.43,304.33 495.10,304.50 C495.77,304.67 496.62,306.08 497.30,308.50 C497.98,310.92 498.52,315.52 499.20,319.00 C499.88,322.48 500.67,326.18 501.40,329.40 C502.13,332.62 502.92,335.37 503.60,338.30 C504.28,341.23 504.75,344.00 505.50,347.00 C506.25,350.00 507.32,352.87 508.10,356.30 C508.88,359.73 509.37,363.82 510.20,367.60 C511.03,371.38 512.03,376.17 513.10,379.00 C514.17,381.83 515.42,383.42 516.60,384.60 C517.78,385.78 518.90,385.85 520.20,386.10 C521.50,386.35 522.98,385.98 524.40,386.10 C525.82,386.22 527.28,387.05 528.70,386.80 C530.12,386.55 531.60,384.65 532.90,384.60 C534.20,384.55 535.60,385.97 536.50,386.50 C537.40,387.03 538.00,387.58 538.30,387.80" fill="none" stroke="#f39a52" stroke-width="1.15" stroke-linejoin="round" opacity="1"/>
<path d="M298.10,388.20 C298.57,387.80 299.95,386.60 300.90,385.80 C301.85,385.00 302.97,383.80 303.80,383.40 C304.63,383.00 305.20,383.23 305.90,383.40 C306.60,383.57 307.30,384.35 308.00,384.40 C308.70,384.45 309.28,384.42 310.10,383.70 C310.92,382.98 312.07,380.45 312.90,380.10 C313.73,379.75 314.38,381.60 315.10,381.60 C315.82,381.60 316.50,380.70 317.20,380.10 C317.90,379.50 318.60,378.70 319.30,378.00 C320.00,377.30 320.70,377.15 321.40,375.90 C322.10,374.65 322.78,372.15 323.50,370.50 C324.22,368.85 325.05,366.17 325.70,366.00 C326.35,365.83 326.82,367.50 327.40,369.50 C327.98,371.50 328.55,375.78 329.20,378.00 C329.85,380.22 330.48,381.73 331.30,382.80 C332.12,383.87 333.27,384.28 334.10,384.40 C334.93,384.52 335.53,384.32 336.30,383.50 C337.07,382.68 337.97,381.80 338.70,379.50 C339.43,377.20 340.12,374.40 340.70,369.70 C341.28,365.00 341.78,357.78 342.20,351.30 C342.62,344.82 342.87,337.30 343.20,330.80 C343.53,324.30 343.85,317.77 344.20,312.30 C344.55,306.83 344.95,302.45 345.30,298.00 C345.65,293.55 345.87,289.37 346.30,285.60 C346.73,281.83 347.22,277.97 347.90,275.40 C348.58,272.83 349.57,270.48 350.40,270.20 C351.23,269.92 352.05,272.13 352.90,273.70 C353.75,275.27 354.73,277.22 355.50,279.60 C356.27,281.98 356.88,284.60 357.50,288.00 C358.12,291.40 358.68,295.95 359.20,300.00 C359.72,304.05 360.02,307.85 360.60,312.30 C361.18,316.75 362.02,321.92 362.70,326.70 C363.38,331.48 363.85,336.22 364.70,341.00 C365.55,345.78 366.77,351.30 367.80,355.40 C368.83,359.50 369.87,362.42 370.90,365.60 C371.93,368.78 372.88,371.37 374.00,374.50 C375.12,377.63 376.40,382.22 377.60,384.40 C378.80,386.58 379.90,387.02 381.20,387.60 C382.50,388.18 384.00,388.08 385.40,387.90 C386.80,387.72 388.18,386.90 389.60,386.50 C391.02,386.10 392.48,385.50 393.90,385.50 C395.32,385.50 396.68,386.33 398.10,386.50 C399.52,386.67 401.22,386.62 402.40,386.50 C403.58,386.38 404.03,386.15 405.20,385.80 C406.37,385.45 408.12,384.28 409.40,384.40 C410.68,384.52 411.72,385.92 412.90,386.50 C414.08,387.08 415.43,387.72 416.50,387.90 C417.57,388.08 417.88,387.75 419.30,387.60 C420.72,387.45 423.43,388.27 425.00,387.00 C426.57,385.73 427.63,383.03 428.70,380.00 C429.77,376.97 430.62,372.63 431.40,368.80 C432.18,364.97 432.77,359.95 433.40,357.00 C434.03,354.05 434.58,350.93 435.20,351.10 C435.82,351.27 436.47,354.88 437.10,358.00 C437.73,361.12 438.28,366.27 439.00,369.80 C439.72,373.33 440.63,377.08 441.40,379.20 C442.17,381.32 442.85,382.50 443.60,382.50 C444.35,382.50 445.12,381.93 445.90,379.20 C446.68,376.47 447.58,370.78 448.30,366.10 C449.02,361.42 449.67,355.78 450.20,351.10 C450.73,346.42 451.10,340.95 451.50,338.00 C451.90,335.05 452.13,332.40 452.60,333.40 C453.07,334.40 453.77,338.87 454.30,344.00 C454.83,349.13 455.23,358.33 455.80,364.20 C456.37,370.07 456.98,375.52 457.70,379.20 C458.42,382.88 459.02,384.90 460.10,386.30 C461.18,387.70 463.17,387.45 464.20,387.60 C465.23,387.75 465.25,387.82 466.30,387.20 C467.35,386.58 469.20,385.50 470.50,383.90 C471.80,382.30 473.03,380.08 474.10,377.60 C475.17,375.12 475.97,372.08 476.90,369.00 C477.83,365.92 478.63,362.77 479.70,359.10 C480.77,355.43 482.40,350.23 483.30,347.00 C484.20,343.77 484.50,342.38 485.10,339.70 C485.70,337.02 486.28,333.85 486.90,330.90 C487.52,327.95 488.10,324.72 488.80,322.00 C489.50,319.28 490.35,317.02 491.10,314.60 C491.85,312.18 492.63,309.18 493.30,307.50 C493.97,305.82 494.43,304.33 495.10,304.50 C495.77,304.67 496.62,306.08 497.30,308.50 C497.98,310.92 498.52,315.52 499.20,319.00 C499.88,322.48 500.67,326.18 501.40,329.40 C502.13,332.62 502.92,335.37 503.60,338.30 C504.28,341.23 504.75,344.00 505.50,347.00 C506.25,350.00 507.32,352.87 508.10,356.30 C508.88,359.73 509.37,363.82 510.20,367.60 C511.03,371.38 512.03,376.17 513.10,379.00 C514.17,381.83 515.42,383.42 516.60,384.60 C517.78,385.78 518.90,385.85 520.20,386.10 C521.50,386.35 522.98,385.98 524.40,386.10 C525.82,386.22 527.28,387.05 528.70,386.80 C530.12,386.55 531.60,384.65 532.90,384.60 C534.20,384.55 535.60,385.97 536.50,386.50 C537.40,387.03 538.00,387.58 538.30,387.80" fill="none" stroke="#ee3a3a" stroke-width="1.0" stroke-linejoin="round" opacity="1" stroke-dasharray="2 2"/>
<path d="M396.50,386.30 C397.15,386.28 399.23,386.75 400.40,386.20 C401.57,385.65 402.55,383.95 403.50,383.00 C404.45,382.05 405.25,381.35 406.10,380.50 C406.95,379.65 407.75,377.90 408.60,377.90 C409.45,377.90 410.35,379.75 411.20,380.50 C412.05,381.25 412.85,382.30 413.70,382.40 C414.55,382.50 415.45,381.05 416.30,381.10 C417.15,381.15 417.85,382.70 418.80,382.70 C419.75,382.70 421.05,381.37 422.00,381.10 C422.95,380.83 423.65,381.53 424.50,381.10 C425.35,380.67 426.35,379.35 427.10,378.50 C427.85,377.65 428.37,377.37 429.00,376.00 C429.63,374.63 430.20,372.97 430.90,370.30 C431.60,367.63 432.48,362.97 433.20,360.00 C433.92,357.03 434.47,352.33 435.20,352.50 C435.93,352.67 436.83,358.00 437.60,361.00 C438.37,364.00 439.00,367.92 439.80,370.50 C440.60,373.08 441.55,375.67 442.40,376.50 C443.25,377.33 444.13,376.17 444.90,375.50 C445.67,374.83 446.35,374.42 447.00,372.50 C447.65,370.58 448.27,367.57 448.80,364.00 C449.33,360.43 449.97,353.25 450.20,351.10" fill="none" stroke="#f04a5c" stroke-width="0.95" stroke-linejoin="round" opacity="1"/>
<rect x="297.6" y="227.7" width="241.19999999999993" height="161.2" fill="none" stroke="#505050" stroke-width="1.3"/>
<line x1="297.60" y1="388.9" x2="297.60" y2="392.4" stroke="#505050" stroke-width="1"/>
<text x="297.60" y="399.79999999999995" class="tl" textLength="14.6" lengthAdjust="spacingAndGlyphs">1350</text>
<line x1="337.80" y1="388.9" x2="337.80" y2="390.5" stroke="#505050" stroke-width="1"/>
<line x1="378.00" y1="388.9" x2="378.00" y2="392.4" stroke="#505050" stroke-width="1"/>
<text x="378.00" y="399.79999999999995" class="tl" textLength="14.6" lengthAdjust="spacingAndGlyphs">1500</text>
<line x1="418.20" y1="388.9" x2="418.20" y2="390.5" stroke="#505050" stroke-width="1"/>
<line x1="458.40" y1="388.9" x2="458.40" y2="392.4" stroke="#505050" stroke-width="1"/>
<text x="458.40" y="399.79999999999995" class="tl" textLength="14.6" lengthAdjust="spacingAndGlyphs">1650</text>
<line x1="498.60" y1="388.9" x2="498.60" y2="390.5" stroke="#505050" stroke-width="1"/>
<line x1="538.80" y1="388.9" x2="538.80" y2="392.4" stroke="#505050" stroke-width="1"/>
<text x="538.80" y="399.79999999999995" class="tl" textLength="14.6" lengthAdjust="spacingAndGlyphs">1800</text>
<text x="366.6" y="412.4" class="xt" style="letter-spacing:0.2px">Raman shift [cm<tspan dy="-4" font-size="7">-1</tspan><tspan dy="4">]</tspan></text>
<text transform="translate(288.9,362.3) rotate(-90)" class="yt" style="font-size:11.8px">Raman intensity [a.u.]</text>
<rect x="427.4" y="227.7" width="111.39999999999998" height="48.10000000000002" fill="#fff" stroke="#505050" stroke-width="1.2"/>
<line x1="428.6" y1="232.5" x2="442.7" y2="232.5" stroke="#3ea6ee" stroke-width="1.35"/>
<text x="444.8" y="234.70" class="lg" style="letter-spacing:-0.07px">Heat Treatment; no Au; 5 mJ - 1</text>
<line x1="428.6" y1="240.1" x2="442.7" y2="240.1" stroke="#5cc4f2" stroke-width="1.35"/>
<text x="444.8" y="242.30" class="lg" style="letter-spacing:-0.07px">Heat Treatment; no Au; 5 mJ - 2</text>
<line x1="428.6" y1="248.1" x2="442.7" y2="248.1" stroke="#5cc4f2" stroke-width="1.35"/>
<text x="444.8" y="250.30" class="lg" style="letter-spacing:-0.07px">Heat Treatment; no Au; 5 mJ - 3</text>
<line x1="428.6" y1="256" x2="442.7" y2="256" stroke="#e6389a" stroke-width="1.35"/>
<text x="444.8" y="258.20" class="lg" style="letter-spacing:-0.07px">Heat Treatment; Au; 5 mJ - 1</text>
<line x1="428.6" y1="264.1" x2="442.7" y2="264.1" stroke="#f07c8c" stroke-width="1.35"/>
<text x="444.8" y="266.30" class="lg" style="letter-spacing:-0.07px">Heat Treatment; Au; 5 mJ - 2</text>
<line x1="428.6" y1="271.8" x2="442.7" y2="271.8" stroke="#f4a86a" stroke-width="1.35"/>
<text x="444.8" y="274.00" class="lg" style="letter-spacing:-0.07px">Heat Treatment; Au; 5 mJ - 3</text>
<text x="413.1" y="434.8" class="pl">(d)</text>
</svg>
</body></html>
